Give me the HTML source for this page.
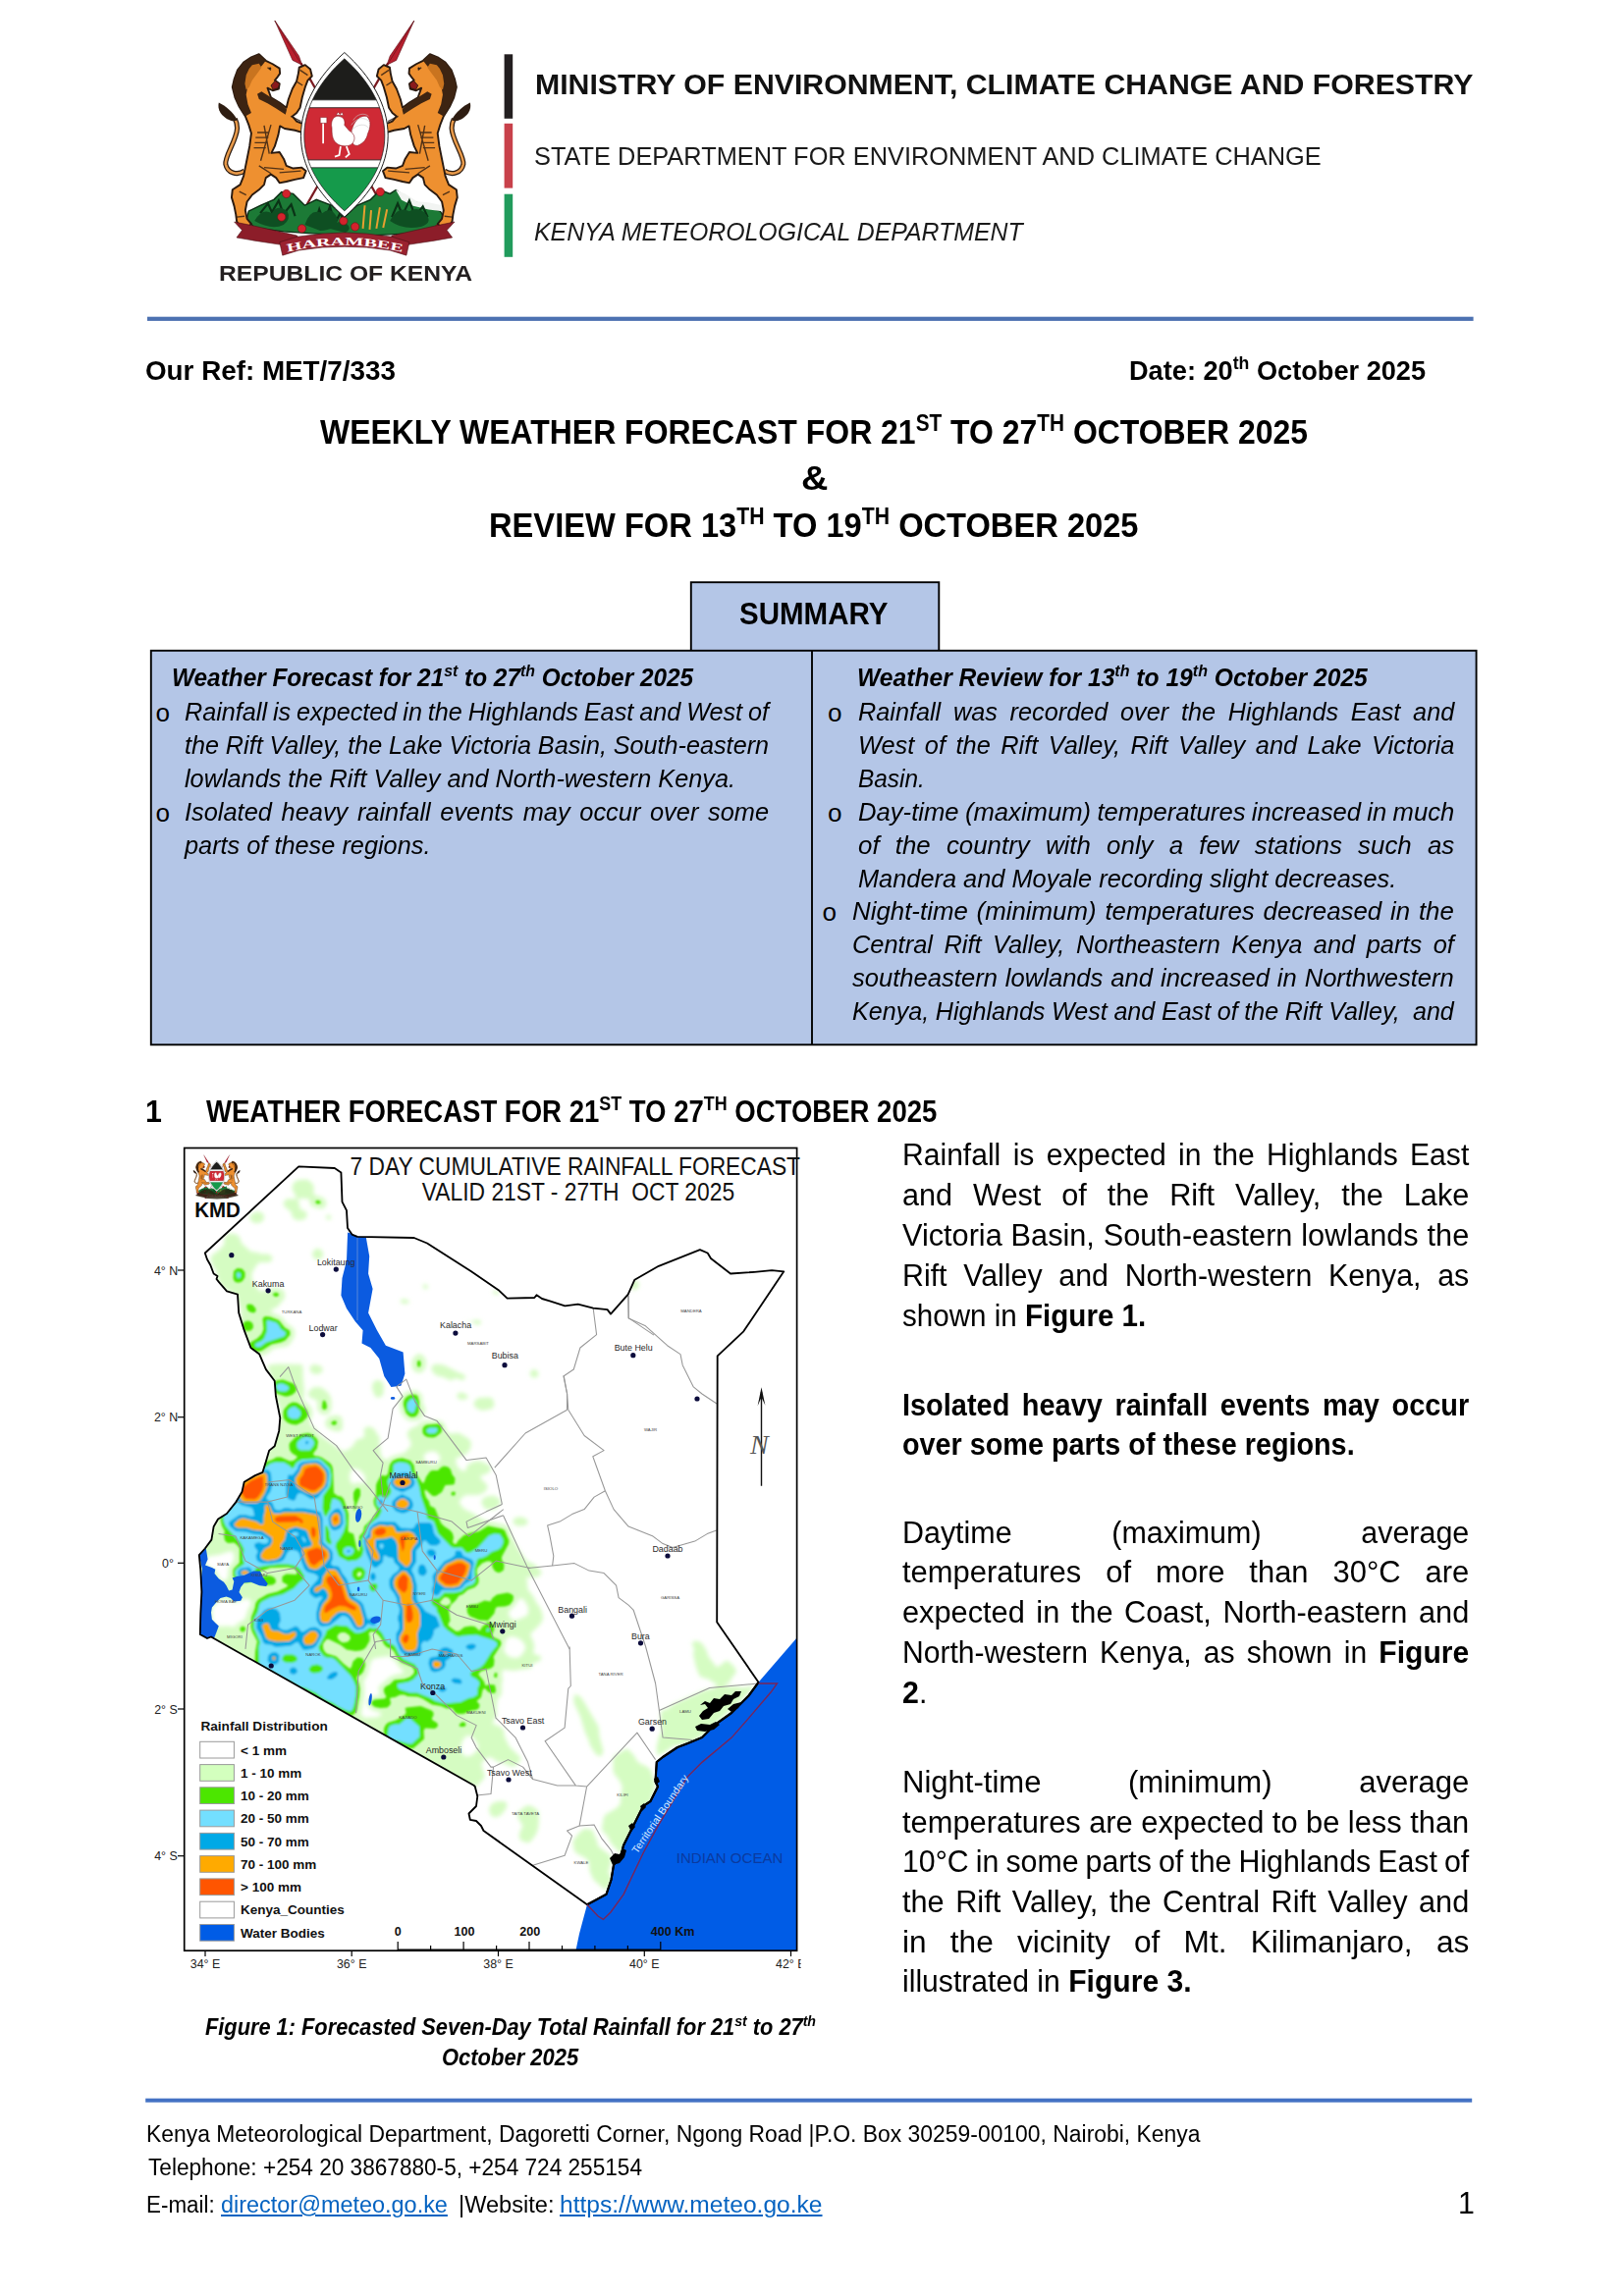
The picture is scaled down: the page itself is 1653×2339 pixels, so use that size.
<!DOCTYPE html>
<html lang="en"><head><meta charset="utf-8"><title>Weekly Weather Forecast</title>
<style>
html,body{margin:0;padding:0;background:#fff}
#pg{position:relative;width:1653px;height:2339px;overflow:hidden;background:#fff;font-family:"Liberation Sans",sans-serif;color:#000}
#g{position:absolute;left:0;top:0}
.t{position:absolute;white-space:pre;transform-origin:0 0;line-height:1}
.s{font-size:65%;position:relative;top:-0.58em;line-height:0}
.a{color:#0563c1;text-decoration:underline}
.o{font-family:"Liberation Mono",monospace;font-size:26px;font-style:normal}
svg text{font-family:"Liberation Sans",sans-serif}
</style></head>
<body><div id="pg">
<svg id="g" width="1653" height="2339" viewBox="0 0 1653 2339">
<rect x="513.6" y="55.3" width="8.6" height="65.5" fill="#231f20"/>
<rect x="513.6" y="125.8" width="8.6" height="65.8" fill="#c8414b"/>
<rect x="513.6" y="197.7" width="8.6" height="64.1" fill="#219b5c"/>
<defs><g id="coa"><g>
<path d="M540,225 L990,1010" stroke="#7a1a20" stroke-width="11" fill="none"/>
<path d="M405,5 L530,188 L546,234 L497,210 Z" fill="#b81f2e" stroke="#5a0f18" stroke-width="3"/>
<path d="M405,5 L540,228" stroke="#5a0f18" stroke-width="3" fill="none"/>
</g>
<g transform="translate(1530,0) scale(-1,1)">
<path d="M540,225 L990,1010" stroke="#7a1a20" stroke-width="11" fill="none"/>
<path d="M405,5 L530,188 L546,234 L497,210 Z" fill="#b81f2e" stroke="#5a0f18" stroke-width="3"/>
<path d="M405,5 L540,228" stroke="#5a0f18" stroke-width="3" fill="none"/>
</g>
<path d="M270,990 L330,960 400,930 440,890 500,900 560,960 620,930 700,960 765,1020 830,960 900,930 950,880 1000,900 1030,880 1100,930 1180,960 1260,990 1290,1040 1250,1085 1100,1105 900,1115 765,1115 600,1105 450,1095 300,1075 260,1030Z" fill="#1c7a36" stroke="#0b2e14" stroke-width="7"/>
<path d="M1030,880 L1080,900 1140,940 1200,945 1270,960 1282,992 1200,982 1120,962 1060,932Z" fill="#f2f4f2"/>
<path d="M330,1000 l40,-50 20,45 35,-60 25,70 40,-50 20,60 M610,1060 l25,-80 25,70 30,-85 25,90 30,-60 15,60 M1010,1020 l30,-70 25,60 35,-75 30,80 40,-50 25,55" stroke="#0a3316" stroke-width="11" fill="none"/>
<path d="M300,1040 q40,-70 90,-40 q30,-50 80,-10 q20,40 -20,70 q-60,30 -150,-20z M560,1060 q30,-90 90,-60 q50,-40 80,30 q-10,60 -90,60z M1000,1040 q40,-80 100,-50 q50,-30 90,20 q30,40 -30,60 q-90,20 -160,-30z M690,1080 q30,-50 80,-30 q40,30 0,50z" fill="#0e4f22"/>
<path d="M860,1080 l10,-120 M895,1085 l8,-100 M930,1080 l18,-110 M965,1075 l20,-95" stroke="#e8a030" stroke-width="10" fill="none"/>
<circle cx="465" cy="900" r="21" fill="#d3232c" stroke="#6a1016" stroke-width="3"/>
<circle cx="440" cy="1020" r="21" fill="#d3232c" stroke="#6a1016" stroke-width="3"/>
<circle cx="760" cy="1040" r="21" fill="#d3232c" stroke="#6a1016" stroke-width="3"/>
<circle cx="820" cy="1070" r="21" fill="#d3232c" stroke="#6a1016" stroke-width="3"/>
<circle cx="950" cy="890" r="21" fill="#d3232c" stroke="#6a1016" stroke-width="3"/>
<circle cx="1255" cy="1075" r="21" fill="#d3232c" stroke="#6a1016" stroke-width="3"/>
<circle cx="545" cy="1080" r="21" fill="#d3232c" stroke="#6a1016" stroke-width="3"/>
<g><g transform="translate(76.08,101.44) scale(0.4418)" stroke-linejoin="round">
<path d="M390,1540 C300,1600 190,1560 170,1460 C160,1360 300,1180 305,1040 C305,990 295,960 280,930" fill="none" stroke="#2a1a10" stroke-width="58"/>
<path d="M390,1540 C300,1600 190,1560 170,1460 C160,1360 300,1180 305,1040 C305,990 295,960 280,930" fill="none" stroke="#e89a4a" stroke-width="30"/>
<path d="M90,740 C170,780 260,850 305,945 C260,975 170,940 110,860 C85,820 80,780 90,740Z" fill="#2e1d12"/>
<path d="M560,175 640,250 720,290 800,340 805,400 770,450 745,480 800,520 790,580 720,600 660,570 700,680 800,740 880,800 905,700 950,580 1000,490 1020,400 1030,330 1100,300 1160,350 1180,430 1130,480 1100,560 1065,680 1040,800 1000,860 950,900 1000,960 1100,1000 1200,1050 1240,1100 1180,1130 1100,1100 980,1065 860,1045 805,1015 785,1120 745,1250 705,1330 800,1320 850,1400 880,1480 960,1510 1060,1500 1110,1540 1080,1620 980,1640 880,1665 800,1680 760,1620 700,1580 640,1620 620,1700 560,1760 480,1820 420,1900 400,2000 420,2100 470,2160 420,2200 330,2180 300,2130 290,2050 270,1950 240,1850 250,1760 340,1700 380,1600 400,1500 420,1400 450,1250 470,1100 440,1000 400,900 330,790 280,680 250,560 270,470 310,360 380,270 470,210Z" fill="#ee9030" stroke="#2a1a10" stroke-width="22"/>
<path d="M560,175 470,210 380,270 310,360 270,470 250,560 280,680 330,790 400,900 470,860 430,760 410,650 430,540 480,440 545,365 600,300 640,250Z" fill="#3d2412"/>
<path d="M590,610 700,680 800,740 885,820 870,880 760,810 660,750 560,700 540,640Z" fill="#3d2412"/>
<path d="M480,300 560,285 590,330 540,400 480,480 445,560 410,590 395,520 410,420 445,345Z" fill="#c9741f"/>
<path d="M540,1090 h140 M520,1150 h150 M510,1210 h150 M500,1270 h140 M620,1010 l60,330 M700,1000 l-120,420 M560,1480 l140,90 M620,1500 l230,20 M800,1560 l250,-20 M330,1780 l80,40 M300,2080 l90,-10 M930,900 l120,60 M1010,500 l60,40 M1040,360 l90,60 M660,330 l40,30 M1120,1060 l70,40" stroke="#2a1a10" stroke-width="16" fill="none" opacity=".8"/>
<circle cx="690" cy="340" r="13" fill="#2a1a10"/>
<path d="M750,485 L800,520 785,570 725,590 700,540Z" fill="#8a1a1c" stroke="#2a1a10" stroke-width="10"/>
</g></g>
<g transform="translate(1530,0) scale(-1,1)"><g transform="translate(76.08,101.44) scale(0.4418)" stroke-linejoin="round">
<path d="M390,1540 C300,1600 190,1560 170,1460 C160,1360 300,1180 305,1040 C305,990 295,960 280,930" fill="none" stroke="#2a1a10" stroke-width="58"/>
<path d="M390,1540 C300,1600 190,1560 170,1460 C160,1360 300,1180 305,1040 C305,990 295,960 280,930" fill="none" stroke="#e89a4a" stroke-width="30"/>
<path d="M90,740 C170,780 260,850 305,945 C260,975 170,940 110,860 C85,820 80,780 90,740Z" fill="#2e1d12"/>
<path d="M560,175 640,250 720,290 800,340 805,400 770,450 745,480 800,520 790,580 720,600 660,570 700,680 800,740 880,800 905,700 950,580 1000,490 1020,400 1030,330 1100,300 1160,350 1180,430 1130,480 1100,560 1065,680 1040,800 1000,860 950,900 1000,960 1100,1000 1200,1050 1240,1100 1180,1130 1100,1100 980,1065 860,1045 805,1015 785,1120 745,1250 705,1330 800,1320 850,1400 880,1480 960,1510 1060,1500 1110,1540 1080,1620 980,1640 880,1665 800,1680 760,1620 700,1580 640,1620 620,1700 560,1760 480,1820 420,1900 400,2000 420,2100 470,2160 420,2200 330,2180 300,2130 290,2050 270,1950 240,1850 250,1760 340,1700 380,1600 400,1500 420,1400 450,1250 470,1100 440,1000 400,900 330,790 280,680 250,560 270,470 310,360 380,270 470,210Z" fill="#ee9030" stroke="#2a1a10" stroke-width="22"/>
<path d="M560,175 470,210 380,270 310,360 270,470 250,560 280,680 330,790 400,900 470,860 430,760 410,650 430,540 480,440 545,365 600,300 640,250Z" fill="#3d2412"/>
<path d="M590,610 700,680 800,740 885,820 870,880 760,810 660,750 560,700 540,640Z" fill="#3d2412"/>
<path d="M480,300 560,285 590,330 540,400 480,480 445,560 410,590 395,520 410,420 445,345Z" fill="#c9741f"/>
<path d="M540,1090 h140 M520,1150 h150 M510,1210 h150 M500,1270 h140 M620,1010 l60,330 M700,1000 l-120,420 M560,1480 l140,90 M620,1500 l230,20 M800,1560 l250,-20 M330,1780 l80,40 M300,2080 l90,-10 M930,900 l120,60 M1010,500 l60,40 M1040,360 l90,60 M660,330 l40,30 M1120,1060 l70,40" stroke="#2a1a10" stroke-width="16" fill="none" opacity=".8"/>
<circle cx="690" cy="340" r="13" fill="#2a1a10"/>
<path d="M750,485 L800,520 785,570 725,590 700,540Z" fill="#8a1a1c" stroke="#2a1a10" stroke-width="10"/>
</g></g>
<path d="M765,170 C900,290 990,440 990,600 C990,760 900,900 765,1020 C630,900 540,760 540,600 C540,440 630,290 765,170Z" fill="#fff" stroke="#1a1a1a" stroke-width="5"/>
<clipPath id="shc"><path d="M765,170 C900,290 990,440 990,600 C990,760 900,900 765,1020 C630,900 540,760 540,600 C540,440 630,290 765,170Z" transform="translate(765 597) scale(0.925) translate(-765 -597)"/></clipPath>
<g clip-path="url(#shc)"><rect x="520" y="150" width="500" height="265" fill="#1d1d1b"/><rect x="520" y="415" width="500" height="40" fill="#fff"/><rect x="520" y="455" width="500" height="270" fill="#cf2a35"/><rect x="520" y="725" width="500" height="40" fill="#fff"/><rect x="520" y="765" width="500" height="270" fill="#159a4b"/>
<path d="M520,415 H1020 M520,455 H1020 M520,725 H1020 M520,765 H1020" stroke="#1a1a1a" stroke-width="4"/></g>
<path d="M765,170 C900,290 990,440 990,600 C990,760 900,900 765,1020 C630,900 540,760 540,600 C540,440 630,290 765,170Z" transform="translate(765 597) scale(0.925) translate(-765 -597)" fill="none" stroke="#1a1a1a" stroke-width="4"/>
<g fill="#fff" stroke="#8a1a22" stroke-width="3">
<path d="M800,600 C800,540 840,490 880,500 C905,520 900,560 885,590 C880,620 860,640 835,650 C815,655 800,640 800,600Z"/>
<path d="M810,520 C830,485 870,480 890,500 M800,545 C825,505 875,500 895,530 M800,575 C830,535 880,535 892,565" fill="none" stroke="#c9c9c9"/>
<path d="M700,560 C690,520 715,490 740,500 C760,505 770,520 765,545 L790,575 C815,585 830,620 800,645 C775,660 735,655 715,630 C700,610 700,585 700,560Z"/>
<path d="M722,492 l10,-14 10,12 10,-12 8,16Z" fill="#fff"/>
<path d="M745,655 L738,700 715,708 M775,655 L790,695 770,712" fill="none" stroke="#fff" stroke-width="9"/>
<path d="M655,520 V640" stroke="#fff" stroke-width="9" fill="none"/><path d="M640,505 h34 v30 h-34z"/>
</g>
<path d="M196,1045 L300,1066 420,1093 520,1116 548,1172 430,1162 300,1142 208,1126 236,1088Z" fill="#8c1d29" stroke="#4a0d14" stroke-width="3"/>
<path d="M1334,1045 L1230,1066 1110,1093 1010,1116 982,1172 1100,1162 1230,1142 1322,1126 1294,1088Z" fill="#8c1d29" stroke="#4a0d14" stroke-width="3"/>
<path d="M430,1150 L520,1122 650,1106 765,1100 880,1106 1010,1122 1100,1150 1085,1218 1000,1192 880,1177 765,1173 650,1177 530,1192 445,1218Z" fill="#9a2230" stroke="#4a0d14" stroke-width="3"/>
<path id="harc" d="M470,1200 Q765,1131 1060,1200" fill="none"/>
<text font-size="58" font-weight="bold" fill="#fff" style="font-family:'Liberation Serif',serif" textLength="600" lengthAdjust="spacingAndGlyphs"><textPath href="#harc">HARAMBEE</textPath></text></g></defs>
<use href="#coa" transform="translate(200,20) scale(0.19716)"/>
<rect x="150" y="322.7" width="1350.6" height="4.2" fill="#4c71b1"/>
<rect x="148.2" y="2137.7" width="1351" height="4" fill="#4472c4"/>
<rect x="703.8" y="593.2" width="252.5" height="70" fill="#b4c6e7" stroke="#000" stroke-width="1.9"/>
<rect x="153.8" y="662.8" width="1349.8" height="401.5" fill="#b4c6e7" stroke="#000" stroke-width="1.9"/>
<line x1="827" y1="662.8" x2="827" y2="1064.3" stroke="#000" stroke-width="1.9"/>
<defs><clipPath id="cimg"><rect x="148" y="1160" width="667.6" height="860"/></clipPath><clipPath id="cf"><rect x="187.7" y="1169.5" width="623.9" height="817.7"/></clipPath><clipPath id="ck"><path d="M304.2,1188.4 L340.8,1190.0 L347.4,1194.4 L348.5,1224.3 L353.0,1233.2 L354.0,1251.0 L358.5,1257.6 L364.0,1259.8 L421.7,1261.0 L435.0,1266.5 L480.0,1295.3 L507.7,1314.2 L516.6,1322.6 L544.3,1322.0 L546.5,1319.3 L552.0,1323.0 L559.9,1325.3 L575.4,1330.4 L588.7,1328.6 L604.2,1332.6 L618.6,1334.1 L622.0,1338.6 L639.7,1318.6 L646.4,1303.7 L670.8,1289.8 L712.9,1273.1 L720.7,1276.5 L724.0,1282.0 L744.0,1297.5 L768.4,1295.8 L786.1,1294.2 L798.3,1295.3 L757.3,1356.3 L730.7,1381.4 L730.2,1652.5 L772.5,1713.8 L762.5,1727.5 L755.0,1735.0 L745.0,1745.0 L727.5,1757.5 L715.0,1770.0 L700.0,1776.2 L690.0,1780.0 L675.0,1790.0 L668.8,1795.0 L667.5,1815.0 L670.0,1820.0 L662.5,1835.0 L655.0,1840.0 L647.5,1855.0 L642.5,1865.0 L635.0,1880.0 L632.5,1890.0 L625.0,1900.0 L622.5,1915.0 L617.5,1929.8 L606.0,1936.0 L598.0,1940.3 L492.5,1865.0 L490.0,1860.0 L485.0,1855.0 L478.8,1853.8 L477.5,1847.5 L485.0,1840.0 L486.3,1830.0 L483.8,1820.0 L482.5,1818.8 L215.0,1667.5 L211.0,1669.0 L203.8,1665.0 L204.3,1644.0 L205.4,1621.8 L204.3,1599.6 L202.8,1584.1 L208.8,1577.5 L215.4,1568.6 L217.6,1555.3 L222.1,1547.5 L230.9,1542.0 L239.8,1530.9 L246.5,1519.8 L248.7,1509.8 L259.8,1503.1 L267.5,1499.8 L270.9,1488.7 L274.2,1477.6 L279.7,1473.2 L284.2,1457.7 L285.3,1444.4 L280.9,1422.2 L279.7,1406.7 L270.9,1395.1 L264.2,1379.6 L255.4,1373.0 L248.7,1355.2 L243.2,1337.5 L242.0,1318.6 L231.0,1315.3 L223.2,1306.4 L220.5,1303.0 L221.5,1300.0 L217.6,1297.5 L214.3,1288.7 L211.0,1283.0 L208.8,1276.5Z"/></clipPath>
<filter id="soft" x="-5%" y="-5%" width="110%" height="110%"><feGaussianBlur stdDeviation="0.9"/></filter><filter id="soft2" x="-5%" y="-5%" width="110%" height="110%"><feGaussianBlur stdDeviation="2.2"/></filter></defs>
<g id="map" clip-path="url(#cimg)">
<rect x="187.7" y="1169.5" width="623.9" height="817.7" fill="#fff"/>
<g clip-path="url(#cf)">
<path d="M811.6,1668.5 L772.5,1713.8 L762.5,1727.5 L755.0,1735.0 L745.0,1745.0 L727.5,1757.5 L715.0,1770.0 L700.0,1776.2 L690.0,1780.0 L675.0,1790.0 L668.8,1795.0 L667.5,1815.0 L670.0,1820.0 L662.5,1835.0 L655.0,1840.0 L647.5,1855.0 L642.5,1865.0 L635.0,1880.0 L632.5,1890.0 L625.0,1900.0 L622.5,1915.0 L617.5,1929.8 L606.0,1936.0 L598.0,1940.3 L594.0,1955.0 L590.0,1970.0 L586.4,1987.2 L811.6,1987.2Z" fill="#005ce6"/>
<g clip-path="url(#ck)"><g filter="url(#soft2)"><path fill="#d5fcc2" fill-rule="evenodd" d="M594.5,1863.0 589.0,1868.0 583.5,1875.5 584.5,1884.5 587.0,1888.0 595.5,1892.5 598.5,1895.0 600.0,1898.0 600.5,1906.0 604.5,1915.0 615.0,1924.5 617.5,1925.0 619.5,1923.0 623.0,1916.0 622.5,1912.0 620.0,1908.0 620.0,1905.5 622.5,1897.5 622.5,1892.0 621.0,1889.5 609.5,1881.0 607.0,1872.5 605.0,1869.0 604.5,1865.5 601.5,1863.5ZM538.5,1839.0 535.0,1840.0 527.0,1846.5 527.5,1852.0 532.5,1860.0 529.0,1867.5 529.0,1873.0 531.0,1875.0 537.0,1877.5 540.0,1876.5 545.5,1869.5 548.0,1863.5 549.0,1853.5 548.5,1845.0 543.5,1841.0ZM514.0,1835.0 507.0,1835.0 502.0,1837.0 499.5,1839.0 498.0,1844.5 500.0,1849.5 502.5,1851.0 506.5,1851.0 509.5,1849.5 513.5,1845.5 516.5,1840.0 516.0,1837.0ZM640.0,1782.0 637.0,1782.0 626.5,1788.0 624.5,1790.5 624.5,1804.5 626.0,1808.0 630.0,1812.5 633.5,1819.0 633.5,1823.5 632.0,1830.0 632.0,1837.0 628.5,1841.5 616.0,1849.0 614.5,1853.0 613.0,1862.0 614.0,1866.0 618.5,1870.0 622.0,1877.5 631.5,1888.0 633.5,1888.0 639.5,1880.5 642.0,1875.0 643.0,1868.0 647.0,1856.0 653.0,1849.0 656.5,1843.0 662.0,1837.0 664.0,1832.5 667.0,1819.5 666.5,1814.5 663.0,1803.5 658.5,1799.5 651.0,1796.0 648.5,1793.5 646.0,1788.5ZM586.0,1725.5 584.5,1729.0 584.5,1735.0 591.0,1748.5 595.5,1764.0 600.0,1774.0 600.5,1777.0 606.0,1786.0 608.5,1788.5 611.5,1789.0 613.5,1787.5 614.5,1783.5 610.5,1768.5 610.0,1761.0 609.0,1758.0 593.5,1731.5 591.0,1728.5ZM711.5,1672.0 707.5,1671.5 705.0,1673.5 705.0,1676.0 707.0,1679.5 706.0,1685.5 708.5,1697.0 711.5,1705.5 714.0,1708.5 721.5,1710.5 731.0,1717.0 726.5,1720.0 718.0,1721.5 685.5,1736.0 680.5,1740.5 675.5,1742.0 673.0,1744.0 672.5,1752.5 674.0,1763.0 671.0,1769.5 668.5,1780.5 669.5,1788.0 671.0,1788.0 679.5,1783.5 685.0,1779.0 699.0,1777.0 711.5,1771.0 721.5,1763.5 742.0,1744.0 747.0,1740.5 764.0,1723.0 767.5,1718.0 764.5,1717.5 759.5,1719.0 754.5,1719.0 751.0,1718.0 738.5,1718.0 737.5,1717.0 743.0,1714.0 745.5,1709.0 749.5,1704.5 749.5,1700.5 746.5,1696.5 741.5,1692.0 739.0,1692.0 732.5,1697.5 729.5,1698.0 721.5,1687.5 720.0,1682.5 715.5,1674.5ZM522.5,1548.5 523.0,1552.5 527.0,1554.5 533.0,1554.5 536.5,1553.0 537.5,1551.5 537.0,1548.0 532.0,1545.5 527.5,1545.5 524.5,1546.5ZM502.5,1523.5 495.0,1524.5 491.0,1527.5 490.0,1530.5 493.0,1536.0 496.5,1538.0 502.5,1538.0 505.5,1536.5 509.5,1532.5 509.5,1528.0 506.0,1525.0ZM334.5,1443.5 331.0,1449.0 332.0,1453.0 334.0,1455.0 341.0,1458.0 346.5,1458.0 348.5,1456.0 349.0,1454.0 348.5,1445.5 347.5,1443.5 343.0,1441.5ZM482.5,1429.0 483.0,1432.0 485.0,1434.5 491.0,1437.0 499.5,1435.5 501.5,1434.5 503.5,1432.0 502.5,1426.0 501.0,1424.5 498.0,1423.5 488.0,1424.0 485.0,1425.5ZM465.5,1421.0 465.5,1423.5 469.0,1426.0 474.0,1425.5 476.5,1424.0 476.5,1421.5 472.0,1419.0 468.5,1418.5 467.0,1419.0ZM418.5,1416.5 413.0,1418.5 409.0,1422.0 406.5,1428.0 408.0,1437.5 410.0,1441.5 414.0,1446.0 417.5,1447.5 424.0,1447.5 428.0,1446.0 429.5,1444.5 433.0,1438.5 433.0,1434.5 430.5,1429.5 430.0,1421.5 426.0,1417.5 423.0,1416.5ZM318.5,1413.5 314.0,1418.0 314.0,1422.0 316.0,1424.0 321.5,1426.0 323.5,1428.0 323.0,1435.0 326.0,1439.5 329.0,1441.0 334.5,1440.5 337.5,1435.5 337.5,1426.0 335.5,1420.5 330.5,1415.5 326.0,1413.0ZM383.0,1406.0 379.5,1409.0 379.0,1415.0 382.0,1422.5 385.5,1424.0 388.0,1423.0 390.5,1420.0 391.0,1411.5 390.0,1409.0 388.0,1407.0 386.0,1406.0ZM542.0,1395.5 540.0,1398.0 540.0,1401.0 542.5,1403.5 547.0,1403.0 548.5,1400.5 548.0,1397.5 545.0,1395.0ZM316.0,1392.0 315.5,1395.5 316.5,1397.5 319.0,1399.5 324.5,1400.0 328.5,1397.0 328.5,1393.5 325.5,1391.0 320.5,1390.0 318.0,1390.5ZM439.5,1392.5 439.5,1395.5 442.5,1400.0 446.5,1402.0 452.0,1403.0 458.0,1406.0 460.0,1406.0 464.0,1404.0 471.0,1406.0 472.5,1405.5 474.0,1403.5 474.0,1402.0 472.0,1400.0 466.5,1398.0 452.0,1390.5 444.0,1389.5 440.5,1391.0ZM274.0,1390.5 273.0,1391.5 273.0,1394.5 276.0,1402.0 276.0,1406.5 274.0,1410.0 273.0,1417.0 274.5,1420.5 281.0,1425.5 285.0,1433.5 284.0,1444.5 280.0,1451.5 279.5,1458.0 274.0,1469.5 272.0,1482.0 265.5,1488.0 257.0,1491.0 242.5,1498.0 233.0,1506.5 230.0,1515.5 229.5,1526.0 221.0,1539.0 221.0,1550.5 220.0,1552.5 212.0,1560.0 209.5,1567.5 201.5,1584.0 199.5,1590.0 199.5,1592.5 201.5,1598.0 202.5,1604.5 203.5,1627.0 206.5,1636.5 206.5,1641.0 203.0,1647.0 202.5,1649.5 203.5,1656.5 201.5,1661.0 201.5,1665.0 205.0,1668.0 209.5,1669.5 217.0,1674.5 225.5,1678.0 229.0,1681.0 238.0,1685.0 253.0,1694.5 257.0,1700.0 259.5,1702.0 272.5,1709.0 281.5,1716.0 292.5,1719.5 315.0,1733.5 323.0,1735.0 333.0,1740.0 339.0,1745.0 351.0,1751.5 360.5,1753.5 366.0,1757.0 376.0,1761.0 385.0,1767.5 393.0,1777.0 399.5,1781.5 404.0,1783.0 410.0,1783.0 417.5,1786.0 433.0,1796.0 441.5,1799.5 446.5,1803.5 458.5,1808.0 461.5,1811.5 456.0,1816.5 455.0,1818.5 455.0,1821.5 456.0,1823.5 459.5,1826.0 463.0,1827.0 470.0,1827.0 474.5,1824.0 477.0,1818.5 480.0,1818.5 483.5,1820.0 486.0,1819.5 493.5,1811.0 493.5,1808.0 490.5,1799.0 490.5,1796.0 492.5,1793.5 497.5,1790.0 499.5,1790.0 506.5,1794.5 514.0,1796.5 518.5,1799.0 522.0,1800.0 524.5,1799.5 530.0,1793.5 530.0,1790.0 519.0,1779.5 514.0,1769.5 513.0,1762.0 508.0,1758.0 503.5,1757.0 502.0,1755.5 502.0,1754.0 506.0,1747.0 505.5,1740.5 506.5,1731.5 510.5,1726.5 511.0,1724.0 511.0,1714.5 512.0,1711.5 511.0,1704.0 511.5,1702.5 513.0,1701.0 522.5,1702.0 541.0,1699.5 542.0,1696.0 544.0,1694.0 548.0,1693.0 551.0,1690.5 551.0,1688.0 549.5,1686.5 545.0,1685.5 543.0,1683.5 544.0,1680.0 544.0,1675.5 543.0,1671.5 540.5,1667.0 540.5,1664.0 549.0,1656.0 553.0,1650.0 552.5,1644.0 549.5,1636.5 546.5,1633.0 543.0,1626.0 537.5,1619.0 536.5,1607.5 538.0,1606.0 541.0,1607.0 545.5,1607.0 548.5,1606.0 551.5,1603.0 551.5,1601.0 546.5,1595.5 543.0,1593.0 538.0,1591.0 535.0,1588.0 527.0,1576.5 520.0,1562.5 519.5,1557.5 517.5,1555.0 512.5,1553.0 492.5,1548.5 480.5,1541.0 473.0,1537.5 468.0,1531.5 468.0,1529.0 469.5,1526.5 474.0,1523.0 487.5,1523.0 492.5,1521.0 495.5,1518.0 496.5,1515.5 496.0,1512.5 489.5,1506.0 489.0,1504.5 490.5,1503.0 494.5,1502.0 499.0,1499.0 500.0,1496.5 499.0,1493.0 490.0,1488.5 484.0,1488.5 477.0,1491.5 475.5,1494.0 475.0,1497.0 473.5,1498.5 471.0,1498.5 468.0,1496.5 465.0,1492.5 464.0,1487.0 465.5,1485.0 473.0,1482.5 478.0,1478.0 480.0,1472.0 479.5,1468.5 477.0,1465.5 469.0,1460.5 465.5,1459.5 460.0,1460.5 456.5,1460.0 454.5,1457.0 453.5,1452.5 451.5,1449.0 447.0,1447.0 432.0,1447.5 429.5,1448.5 425.5,1452.0 418.0,1455.5 415.0,1459.0 415.0,1463.0 418.5,1469.0 418.5,1473.0 412.0,1480.0 399.5,1483.5 394.0,1487.0 391.5,1487.0 388.5,1484.0 386.5,1472.5 386.5,1464.5 381.0,1455.5 377.5,1453.5 373.5,1453.5 371.0,1455.5 370.5,1458.5 371.5,1462.0 369.5,1465.0 363.5,1466.5 358.0,1474.5 351.0,1478.5 349.0,1478.5 327.0,1463.0 324.0,1460.0 321.5,1455.5 315.5,1450.5 315.5,1448.0 318.0,1442.5 318.0,1436.5 316.0,1432.5 309.0,1426.0 310.0,1417.5 308.5,1402.5 308.5,1392.5 307.5,1390.0 282.5,1389.5ZM476.0,1768.0 478.5,1768.0 481.0,1769.5 484.5,1773.5 487.0,1778.0 486.5,1782.5 481.5,1787.5 478.5,1789.0 474.0,1789.0 472.0,1788.0 469.5,1783.5 469.5,1777.5 472.0,1771.5ZM396.5,1687.0 403.5,1693.5 407.0,1699.0 411.0,1702.0 411.0,1703.5 409.0,1705.0 403.0,1706.0 397.0,1708.5 386.0,1718.0 385.5,1720.5 387.0,1726.0 384.0,1728.0 379.0,1728.0 375.0,1731.0 374.0,1735.5 375.5,1739.5 380.0,1742.5 387.0,1744.5 388.0,1745.5 388.0,1747.0 386.5,1748.5 383.0,1749.5 371.0,1750.0 368.0,1747.5 368.0,1743.5 371.0,1727.0 370.5,1712.0 374.0,1707.0 377.5,1693.0 379.5,1690.5 382.5,1689.0ZM519.0,1667.5 522.0,1667.0 528.5,1669.0 533.0,1673.0 535.0,1677.0 535.0,1680.5 530.5,1687.0 527.0,1689.0 520.5,1688.5 517.5,1687.0 513.0,1682.0 515.0,1670.5ZM255.5,1631.0 256.0,1634.0 252.5,1640.0 250.0,1648.5 247.5,1651.0 243.0,1653.0 239.5,1656.5 237.5,1657.5 233.0,1656.5 222.0,1657.0 217.0,1652.0 216.0,1649.5 216.0,1638.5 217.0,1636.5 224.0,1630.0 228.0,1629.0 238.0,1632.0 241.5,1632.0 248.5,1629.0 252.0,1628.5ZM532.0,1628.5 534.5,1631.0 538.0,1637.0 538.0,1644.0 535.5,1646.5 527.5,1650.0 522.5,1650.5 520.0,1648.5 518.0,1644.5 518.0,1641.5 523.5,1636.5 529.0,1628.5ZM236.0,1580.5 237.5,1581.5 238.5,1584.0 238.0,1590.5 233.0,1596.5 232.0,1607.5 230.0,1610.0 226.5,1610.5 222.5,1606.0 220.5,1600.5 219.0,1599.0 214.5,1597.5 210.0,1593.5 209.0,1590.5 209.5,1588.5 211.0,1586.5 214.5,1585.0 222.5,1584.0 233.5,1580.5ZM359.5,1495.5 365.5,1497.0 370.5,1501.5 372.0,1504.5 372.0,1510.0 370.5,1511.5 365.0,1510.5 359.0,1512.0 356.5,1508.5 356.0,1503.5 357.0,1499.0ZM433.5,1480.5 438.5,1478.5 442.0,1478.5 444.5,1479.5 448.0,1483.0 448.5,1486.0 447.5,1488.5 443.0,1492.0 439.0,1492.0 435.5,1490.5 431.5,1486.0 431.5,1483.0ZM425.0,1379.5 420.5,1384.0 419.5,1386.5 419.5,1392.0 421.0,1395.5 423.5,1398.0 428.5,1398.5 431.0,1397.0 433.5,1392.5 434.0,1386.5 431.5,1381.5 428.5,1379.5ZM490.0,1348.0 489.5,1345.5 486.0,1344.5 479.5,1346.0 475.5,1346.0 475.5,1347.0 480.0,1346.5 485.5,1349.5 488.0,1349.5ZM408.0,1324.5 408.0,1326.5 410.0,1328.0 415.0,1328.0 417.0,1326.5 416.5,1325.0 412.5,1323.5 409.5,1323.5ZM501.5,1316.5 503.5,1318.5 507.5,1318.5 508.5,1317.5 508.5,1316.0 506.0,1314.5 503.0,1315.0ZM430.0,1310.0 432.0,1312.5 434.0,1313.5 436.0,1312.0 436.0,1310.5 434.5,1308.5 432.0,1308.5ZM646.0,1304.0 643.0,1306.0 642.0,1310.5 644.0,1313.5 647.5,1314.0 650.5,1310.5 650.5,1307.0 648.5,1304.5ZM322.0,1272.0 319.0,1274.5 318.0,1278.5 320.0,1282.0 322.0,1283.0 325.5,1283.0 328.0,1281.5 329.0,1279.5 329.0,1276.0 326.5,1272.5ZM230.5,1258.0 228.5,1261.5 228.5,1266.5 227.5,1269.0 223.0,1273.5 215.0,1279.5 214.5,1283.5 217.0,1290.5 220.5,1295.0 221.0,1302.0 224.0,1307.5 228.0,1312.5 237.5,1317.5 241.5,1322.0 242.0,1325.5 245.0,1332.5 245.5,1342.0 243.0,1350.0 243.0,1353.0 245.0,1357.0 248.0,1359.0 251.0,1362.5 248.5,1367.5 248.5,1372.5 249.5,1374.5 254.0,1378.5 258.0,1380.5 265.0,1381.5 272.0,1379.0 279.0,1373.5 292.5,1371.5 295.0,1369.5 300.0,1361.5 300.0,1355.0 297.0,1351.5 292.0,1348.5 287.5,1342.0 283.0,1339.5 278.0,1338.0 276.0,1336.0 277.5,1333.5 282.0,1332.0 290.0,1322.5 290.0,1316.5 287.0,1313.5 280.0,1311.5 270.0,1315.0 265.0,1315.5 263.0,1314.0 256.5,1303.0 256.5,1298.5 257.5,1295.0 262.0,1288.0 264.5,1286.0 274.0,1286.0 276.0,1285.0 277.5,1282.0 277.0,1280.0 273.5,1277.5 266.5,1277.5 262.5,1276.0 255.5,1275.0 246.0,1266.5 244.5,1261.5 241.5,1257.5 234.5,1256.5ZM333.0,1238.0 332.0,1239.5 332.5,1242.0 336.0,1242.5 337.5,1240.5 337.0,1239.0 335.0,1237.5ZM257.0,1236.0 254.5,1239.0 254.5,1241.5 256.5,1244.5 259.5,1246.0 264.0,1246.0 268.5,1243.0 269.0,1238.5 267.0,1235.5 264.5,1234.5 261.0,1234.5ZM313.0,1201.5 304.5,1202.0 300.5,1203.5 298.0,1207.0 297.5,1211.0 302.0,1220.5 300.5,1221.5 293.5,1221.0 291.0,1222.0 289.0,1224.5 289.0,1227.5 290.0,1229.5 296.5,1234.5 298.0,1240.5 302.0,1243.0 307.5,1243.0 311.0,1241.5 312.5,1239.5 312.5,1235.5 310.5,1233.5 307.0,1232.5 305.0,1230.5 305.0,1226.5 303.5,1223.0 304.0,1221.0 314.0,1221.0 315.5,1223.0 316.0,1227.5 320.0,1230.0 328.0,1231.5 329.5,1231.0 332.0,1228.0 332.0,1223.5 330.0,1221.0 326.5,1219.0 321.0,1218.0 319.5,1216.5 319.5,1208.0 318.0,1205.5Z"/></g><g filter="url(#soft)">
<path fill="#4ce600" fill-rule="evenodd" d="M467.5,1757.0 468.5,1759.0 473.0,1759.0 474.5,1757.5 474.0,1755.5 472.5,1754.5 470.5,1754.5ZM441.5,1744.5 439.5,1742.5 428.5,1738.0 414.0,1739.5 412.5,1740.5 413.5,1743.5 413.0,1746.5 403.0,1752.5 395.0,1755.0 392.5,1757.5 391.0,1761.0 391.0,1767.5 393.5,1772.0 400.0,1776.5 405.5,1778.0 410.0,1778.0 418.5,1781.5 421.0,1781.0 432.0,1771.5 431.5,1763.0 433.0,1760.5 443.0,1761.0 446.0,1758.5 445.5,1755.5 440.0,1752.0 440.0,1750.0 441.5,1747.5ZM504.0,1704.0 503.0,1707.5 504.0,1709.0 506.0,1709.0 506.5,1705.0 505.5,1704.0ZM247.0,1656.5 244.5,1658.5 244.5,1661.0 246.5,1662.5 248.0,1662.5 250.0,1660.5 250.0,1658.0ZM523.0,1626.0 521.0,1624.0 517.0,1622.5 506.0,1624.5 501.5,1628.0 499.5,1631.5 493.5,1630.5 486.0,1634.0 477.5,1635.0 475.5,1638.0 476.0,1643.0 478.5,1646.5 488.0,1650.5 497.0,1651.0 503.5,1643.5 504.5,1639.0 506.0,1637.0 514.5,1636.5 519.0,1635.0 522.5,1630.5ZM265.5,1608.5 265.5,1611.5 268.0,1614.0 270.5,1615.0 278.0,1614.5 281.0,1612.0 280.5,1608.5 278.5,1606.5 274.5,1605.0 269.0,1605.5ZM461.0,1519.5 459.5,1521.0 459.5,1522.5 460.5,1523.5 463.0,1523.5 464.0,1521.0 463.5,1520.0ZM365.5,1516.0 362.5,1516.5 360.0,1520.5 360.0,1527.0 361.0,1530.5 360.5,1539.0 361.5,1538.5 363.0,1532.5 367.0,1523.5 367.0,1518.0ZM238.5,1507.5 234.5,1520.0 234.5,1527.5 229.5,1533.0 225.0,1542.0 224.5,1547.5 226.0,1554.5 229.0,1560.0 228.0,1563.5 229.0,1569.5 232.0,1572.0 238.5,1571.5 242.0,1574.5 244.0,1577.5 244.0,1592.0 238.5,1597.5 237.5,1599.5 237.5,1605.5 239.0,1608.5 241.0,1610.5 244.5,1612.0 252.5,1612.0 257.5,1611.0 261.5,1608.5 263.0,1603.0 265.0,1601.0 275.5,1597.0 293.0,1596.5 299.5,1598.0 302.5,1600.5 302.0,1604.0 291.5,1603.5 287.5,1606.0 287.5,1611.5 293.5,1615.0 291.5,1617.0 282.5,1621.5 272.5,1624.0 263.0,1629.5 260.5,1633.0 259.5,1638.5 256.0,1647.5 255.5,1657.5 257.0,1662.5 262.0,1672.0 260.0,1682.5 259.5,1695.0 262.5,1699.5 267.0,1702.5 274.5,1705.5 283.5,1712.0 291.5,1714.5 298.5,1719.0 305.0,1721.5 316.5,1728.0 324.5,1731.0 328.5,1734.0 334.5,1736.5 341.0,1741.0 353.0,1747.0 358.0,1748.0 361.5,1745.5 363.5,1742.0 366.0,1727.5 366.5,1720.5 365.5,1715.0 363.5,1710.5 363.5,1708.0 367.5,1706.0 370.0,1703.0 372.0,1696.5 371.5,1693.0 368.5,1689.0 364.0,1688.5 359.5,1692.5 358.0,1698.0 356.5,1700.0 350.0,1695.0 342.5,1687.5 332.5,1684.5 330.0,1681.5 329.0,1678.5 329.0,1674.5 332.5,1670.0 335.0,1670.0 346.5,1675.5 353.0,1680.5 362.0,1682.0 367.0,1681.5 370.0,1680.5 372.5,1678.5 376.5,1671.5 376.5,1667.0 375.5,1664.0 377.5,1662.0 382.0,1662.5 385.5,1665.5 388.5,1669.5 391.0,1675.0 394.0,1678.0 399.0,1680.0 401.5,1682.5 404.0,1688.0 408.5,1693.5 419.5,1698.0 422.0,1701.5 421.5,1705.0 417.5,1708.5 412.0,1710.5 401.5,1711.5 397.0,1716.0 393.0,1718.0 391.0,1720.5 391.0,1723.5 393.5,1729.0 391.5,1730.5 381.5,1731.5 378.5,1733.5 378.5,1736.5 382.0,1739.0 387.5,1740.0 394.5,1739.5 397.5,1736.5 398.0,1735.0 397.0,1730.5 398.0,1729.5 402.5,1729.0 407.5,1726.5 412.0,1726.5 415.0,1728.0 425.5,1728.5 430.5,1730.5 440.0,1736.5 449.0,1738.0 455.0,1740.5 460.5,1740.0 464.0,1745.0 467.0,1746.0 472.0,1746.0 480.5,1742.5 485.0,1742.0 488.0,1740.0 488.5,1736.5 485.5,1733.0 490.0,1729.0 491.5,1722.0 493.0,1720.0 494.0,1720.0 496.5,1723.0 499.0,1724.5 503.5,1725.0 504.5,1724.0 505.0,1722.0 504.0,1716.5 498.0,1716.0 494.5,1717.5 493.0,1713.0 487.5,1706.0 487.5,1705.0 490.0,1702.5 500.0,1699.5 503.0,1697.0 503.5,1691.0 502.5,1688.0 510.0,1676.0 510.5,1674.0 509.5,1671.0 503.0,1668.0 501.0,1666.0 503.5,1659.5 503.0,1655.5 499.5,1653.0 496.5,1652.5 490.5,1658.0 489.0,1661.0 488.0,1661.0 483.5,1657.0 479.5,1656.5 473.0,1657.5 468.0,1661.5 464.5,1662.0 457.0,1656.5 456.5,1654.5 458.5,1651.0 457.0,1640.0 459.0,1635.0 464.0,1630.5 467.5,1625.5 471.5,1624.0 476.5,1619.5 483.5,1617.0 486.5,1614.0 487.5,1612.0 487.5,1608.0 485.5,1602.0 485.5,1599.5 486.5,1597.0 491.0,1592.5 496.0,1590.5 499.5,1590.5 501.0,1592.0 501.5,1596.5 504.0,1600.5 507.0,1602.0 509.0,1602.0 513.0,1599.5 513.5,1594.0 511.0,1588.5 511.0,1586.0 518.0,1573.0 518.5,1569.5 514.0,1559.0 511.5,1557.5 497.0,1554.5 488.0,1560.0 479.5,1561.5 472.5,1564.0 467.0,1569.0 464.5,1573.0 463.0,1573.0 461.0,1571.0 462.0,1566.5 461.0,1562.0 458.5,1559.0 452.5,1555.0 449.0,1551.5 443.0,1536.5 438.0,1534.0 437.0,1529.5 434.0,1525.5 432.5,1520.5 432.5,1518.5 433.5,1517.5 440.5,1524.0 444.0,1524.0 450.0,1520.0 453.5,1513.0 461.5,1512.5 463.0,1511.5 463.5,1506.0 460.5,1502.0 459.0,1497.0 456.5,1494.5 452.0,1493.5 449.0,1495.0 446.0,1498.0 440.0,1498.0 438.0,1499.0 434.0,1504.5 432.0,1510.0 430.5,1511.0 422.5,1499.5 421.5,1492.5 418.0,1488.0 410.0,1485.5 405.0,1486.0 400.0,1488.0 397.0,1492.0 395.0,1501.5 393.0,1503.5 388.0,1503.0 384.0,1510.0 383.0,1513.0 383.0,1523.0 380.5,1528.5 381.0,1533.0 384.0,1538.0 384.0,1540.0 380.5,1546.0 371.0,1555.0 370.0,1560.5 366.0,1565.0 365.5,1573.0 366.5,1575.5 366.5,1579.5 365.5,1580.5 363.5,1578.0 360.0,1562.5 355.5,1561.0 354.5,1559.5 355.0,1542.5 350.0,1527.0 347.5,1524.5 344.0,1524.0 340.0,1521.0 339.0,1496.5 338.0,1493.0 336.0,1490.5 328.0,1485.0 324.0,1483.5 321.5,1483.5 319.0,1482.0 319.5,1480.0 323.0,1475.5 324.0,1468.5 322.5,1465.5 318.0,1461.5 314.0,1460.0 307.5,1461.0 301.0,1464.0 295.5,1469.5 294.5,1471.5 295.0,1477.0 297.5,1480.5 302.5,1483.5 302.5,1485.0 299.0,1488.0 295.0,1488.5 286.0,1484.5 281.5,1484.5 277.5,1487.0 271.5,1489.0 266.5,1493.0 260.0,1494.5 244.5,1502.0ZM343.5,1666.5 345.5,1664.0 347.5,1663.0 351.5,1663.0 356.0,1666.0 357.0,1669.5 354.5,1672.5 349.5,1673.5 347.0,1672.5 344.0,1669.5ZM448.0,1632.0 452.5,1627.0 456.5,1627.5 459.0,1630.5 459.0,1633.5 455.0,1636.0 450.0,1635.0 448.0,1633.0ZM367.0,1601.0 368.5,1602.5 368.5,1604.0 367.0,1606.0 365.0,1606.5 363.5,1605.0 363.5,1603.5 365.0,1601.5ZM449.5,1452.5 446.5,1450.5 434.5,1451.5 432.5,1452.5 430.5,1455.0 430.5,1460.0 432.5,1462.5 435.5,1464.0 441.0,1464.5 444.0,1463.5 449.0,1459.5 450.0,1457.5ZM337.5,1449.0 337.5,1450.5 340.0,1452.0 343.0,1450.5 342.5,1447.5 339.5,1447.5ZM298.0,1428.5 294.0,1430.5 289.5,1435.5 288.5,1438.0 288.5,1443.5 289.5,1446.0 292.5,1449.0 297.0,1451.0 302.0,1451.5 308.0,1448.5 313.0,1443.5 314.0,1440.0 312.0,1435.5 302.5,1429.0ZM330.0,1426.0 328.5,1428.5 328.0,1434.0 329.5,1436.0 331.0,1436.0 332.5,1435.0 333.0,1432.5 332.0,1428.5ZM419.5,1420.5 415.5,1422.0 412.5,1424.5 411.0,1428.0 411.0,1431.5 413.5,1439.5 416.5,1442.5 418.5,1443.5 421.5,1443.5 424.0,1442.5 426.5,1438.5 427.0,1428.0 425.5,1422.5 424.0,1421.0ZM277.5,1412.5 278.0,1416.0 280.5,1419.0 290.0,1422.5 293.0,1422.5 297.5,1421.0 301.0,1418.0 302.0,1415.5 301.5,1412.5 299.0,1409.5 288.0,1405.5 281.5,1406.5 279.0,1409.0ZM426.0,1386.0 425.0,1387.5 425.0,1391.0 426.0,1392.5 427.5,1392.5 428.5,1391.0 428.5,1388.0 427.5,1386.0ZM249.0,1346.5 247.0,1350.0 248.0,1354.0 250.5,1356.0 255.5,1355.5 258.0,1352.5 257.5,1348.5 255.5,1346.5 252.5,1345.5ZM295.0,1355.5 290.0,1352.5 284.0,1345.0 275.0,1341.5 270.0,1341.0 268.0,1342.5 267.5,1344.0 268.5,1354.0 266.5,1359.0 262.0,1363.5 254.5,1368.0 253.5,1370.5 256.0,1374.5 260.0,1376.5 263.0,1377.0 266.5,1376.0 276.5,1369.5 286.0,1367.5 290.5,1365.5 295.5,1359.5ZM251.0,1330.0 252.0,1334.5 254.5,1336.5 258.5,1337.5 260.5,1336.0 260.5,1333.0 257.0,1329.0 253.0,1328.5ZM278.0,1318.0 278.0,1319.5 280.5,1321.0 282.0,1321.0 284.0,1319.5 284.0,1318.0 281.0,1316.5ZM241.5,1292.0 238.0,1295.0 237.5,1302.5 239.0,1305.5 241.0,1306.5 244.0,1306.5 247.0,1305.0 249.5,1301.0 249.5,1296.0 246.5,1292.5ZM321.0,1224.5 323.0,1226.5 326.5,1226.0 326.5,1224.5 325.0,1223.0 322.5,1223.0Z"/>
<path fill="#73dfff" fill-rule="evenodd" d="M427.0,1759.0 418.0,1751.0 414.0,1750.5 407.0,1756.5 402.5,1756.5 397.5,1758.0 395.5,1761.5 395.0,1767.5 396.5,1771.0 398.5,1772.5 404.5,1773.0 416.5,1776.5 419.5,1776.5 427.5,1769.0ZM498.0,1658.5 495.5,1660.0 496.0,1662.0 498.0,1661.5ZM350.0,1578.0 349.5,1581.5 351.5,1584.0 353.5,1585.0 358.0,1584.0 360.5,1580.5 360.0,1578.0 357.0,1576.0 353.0,1576.0ZM241.0,1509.0 237.5,1518.5 237.5,1523.5 239.0,1528.0 233.5,1534.5 227.5,1544.0 227.5,1549.0 230.0,1555.0 245.0,1571.5 248.5,1578.0 247.5,1588.5 249.0,1593.0 241.0,1598.5 240.0,1600.5 240.0,1604.5 241.0,1606.5 243.0,1608.5 246.0,1609.5 254.0,1609.0 259.0,1606.0 259.5,1599.0 261.0,1597.0 270.0,1595.0 283.0,1593.5 293.5,1593.5 300.5,1595.0 303.5,1596.5 306.0,1599.0 310.0,1605.5 309.5,1609.0 305.0,1612.0 299.5,1618.0 288.5,1624.0 275.0,1627.5 267.0,1631.5 264.5,1634.0 262.5,1642.0 259.0,1649.0 258.5,1658.0 265.0,1672.5 263.5,1678.5 264.0,1695.0 266.5,1698.0 280.5,1704.5 286.5,1709.0 295.5,1712.5 304.5,1718.0 310.5,1719.5 321.5,1724.5 330.0,1731.0 339.5,1735.0 344.5,1738.5 353.0,1742.5 357.0,1743.5 359.0,1741.5 360.5,1737.0 362.5,1725.5 362.5,1718.5 360.5,1713.0 357.0,1707.0 341.0,1690.5 338.0,1689.0 332.5,1688.5 329.5,1687.0 325.0,1681.0 324.5,1677.5 331.5,1664.5 332.5,1661.0 341.5,1655.5 353.5,1656.5 362.0,1663.5 366.0,1663.5 370.5,1662.0 376.5,1658.0 380.0,1659.0 383.0,1658.5 384.5,1659.0 389.0,1663.5 393.0,1671.0 396.0,1674.0 400.5,1675.5 403.0,1678.0 406.0,1684.5 410.5,1690.0 422.5,1695.5 425.5,1700.0 426.5,1705.0 421.0,1711.0 416.0,1713.5 405.0,1715.5 405.0,1718.5 407.0,1721.0 418.0,1724.5 425.0,1724.5 437.5,1729.5 443.5,1733.0 453.5,1735.5 469.0,1734.0 477.0,1730.0 482.0,1729.0 486.0,1726.5 486.5,1719.5 488.0,1716.5 488.0,1713.5 484.5,1710.0 481.0,1708.5 479.0,1706.5 479.0,1704.5 481.0,1702.5 489.5,1698.5 493.0,1695.0 500.5,1683.0 506.0,1676.5 506.0,1673.5 502.5,1671.0 485.0,1665.5 471.0,1666.5 467.5,1667.5 464.0,1666.5 456.0,1661.0 451.5,1656.5 447.0,1645.0 445.0,1642.0 444.5,1638.0 440.5,1635.0 439.0,1632.0 439.0,1630.0 441.0,1628.0 447.0,1628.0 452.5,1622.5 462.0,1622.5 469.5,1621.0 475.5,1616.0 481.5,1614.0 484.0,1611.0 483.0,1599.0 486.0,1589.0 488.5,1587.0 491.0,1587.0 495.5,1585.0 500.5,1581.0 507.5,1578.5 510.5,1576.0 512.5,1571.5 512.5,1568.5 509.0,1563.0 503.5,1562.5 498.0,1564.5 486.0,1577.5 478.0,1582.0 475.0,1582.0 470.0,1576.5 462.5,1577.0 459.0,1575.5 446.0,1562.0 442.0,1550.5 440.5,1549.0 435.0,1547.0 434.0,1540.0 428.5,1524.0 427.0,1515.0 424.0,1506.5 419.0,1500.0 417.5,1493.0 414.0,1490.5 406.5,1489.5 401.5,1491.5 400.5,1493.5 400.5,1500.0 395.0,1508.5 395.5,1512.5 398.5,1518.0 398.0,1521.5 393.0,1527.0 390.5,1525.0 387.5,1524.0 386.0,1524.5 383.5,1528.0 383.5,1532.0 384.5,1534.0 388.5,1537.5 388.5,1540.0 385.5,1545.5 375.5,1554.0 373.5,1557.5 373.0,1562.0 368.5,1568.0 368.5,1572.0 370.5,1578.5 369.0,1584.5 367.0,1587.0 363.0,1589.5 354.5,1590.5 346.5,1586.5 344.5,1584.5 341.5,1575.5 342.5,1571.5 346.5,1566.5 350.0,1560.0 352.0,1552.5 351.5,1541.5 347.0,1531.0 345.5,1529.0 341.5,1527.0 338.5,1527.0 337.0,1533.0 337.0,1537.0 332.0,1545.0 330.0,1543.0 328.5,1537.0 329.0,1524.0 335.5,1514.5 336.5,1511.0 337.0,1502.5 335.5,1495.5 328.0,1488.0 324.0,1486.0 307.5,1487.0 303.5,1489.0 301.0,1491.5 300.0,1494.0 297.5,1496.0 294.5,1493.0 289.5,1490.0 281.0,1489.5 275.5,1491.0 270.0,1495.0 261.0,1497.0 254.0,1500.0 244.0,1506.0ZM314.5,1700.0 317.5,1696.5 323.0,1695.5 327.0,1697.0 328.5,1698.5 329.0,1701.0 325.5,1704.0 319.0,1704.5 316.5,1703.5 315.0,1702.0ZM287.5,1688.5 289.5,1686.0 291.0,1685.5 298.0,1685.5 300.5,1686.5 302.5,1688.5 303.0,1690.5 301.5,1692.5 297.5,1694.0 290.5,1693.5 287.5,1691.5ZM383.0,1613.0 384.5,1615.0 384.0,1618.5 382.5,1620.5 379.5,1621.5 377.0,1619.5 376.0,1615.0 377.0,1613.5ZM363.5,1596.0 368.5,1596.5 371.0,1598.5 372.5,1602.0 371.0,1607.5 366.5,1611.0 362.0,1610.5 358.5,1606.0 358.5,1601.0 359.5,1599.0ZM332.0,1554.0 333.5,1555.0 335.5,1560.0 336.0,1566.0 337.5,1570.5 337.5,1572.5 336.5,1573.5 334.0,1572.5 331.5,1569.5 331.0,1556.0ZM319.0,1467.0 317.0,1465.0 312.5,1463.5 307.5,1465.0 303.5,1468.5 302.5,1470.5 302.5,1474.0 304.5,1476.5 306.5,1477.5 315.5,1477.5 319.5,1472.5 320.0,1469.5ZM434.5,1456.5 434.5,1458.5 437.5,1460.5 443.0,1460.0 445.5,1457.5 445.5,1455.5 444.0,1454.5 438.0,1454.5ZM297.0,1433.5 294.0,1436.0 293.0,1438.0 293.5,1443.0 297.5,1445.5 302.0,1445.5 304.0,1444.5 306.5,1441.0 305.5,1437.0 300.5,1433.0ZM421.0,1425.0 418.0,1425.5 415.0,1429.5 415.0,1435.0 416.0,1437.0 419.5,1439.5 422.0,1438.0 424.0,1431.0 423.5,1427.5ZM281.0,1413.0 282.5,1416.0 286.0,1417.5 291.0,1417.5 294.5,1414.5 293.0,1412.0 288.0,1409.5 284.0,1409.5 281.5,1411.5ZM291.0,1357.5 285.5,1353.5 284.5,1351.0 281.5,1347.5 273.0,1345.0 271.5,1346.0 272.0,1356.0 269.0,1363.5 266.5,1366.0 261.0,1368.5 259.5,1370.5 261.0,1372.0 265.0,1372.0 271.0,1367.5 289.0,1361.5 290.5,1360.0ZM242.5,1296.0 241.0,1297.5 241.5,1301.5 243.5,1302.0 245.0,1300.5 245.0,1297.5Z"/>
<path fill="#00a9e6" fill-rule="evenodd" d="M446.5,1720.0 446.5,1721.5 449.0,1723.5 452.0,1723.5 455.0,1721.5 454.0,1719.5 451.0,1718.5 448.5,1718.5ZM459.5,1711.5 459.5,1712.5 463.0,1715.0 469.0,1715.5 470.5,1714.5 470.0,1711.5 467.5,1710.0 462.0,1709.5ZM344.0,1704.0 342.5,1703.0 340.0,1703.0 336.0,1705.0 333.0,1708.5 333.5,1710.5 337.5,1711.0 340.5,1709.5 343.5,1707.0ZM298.5,1698.5 296.0,1699.5 295.0,1701.0 295.0,1703.5 296.0,1705.0 299.5,1706.0 302.5,1704.0 303.0,1702.0 301.0,1699.0ZM281.0,1683.0 276.5,1683.5 273.0,1686.5 272.5,1692.0 275.5,1695.5 279.5,1696.0 282.0,1695.0 284.0,1693.0 284.5,1686.0ZM460.5,1680.5 455.0,1678.0 451.0,1678.5 447.5,1681.0 446.5,1683.0 446.5,1686.0 445.0,1687.5 440.0,1688.0 438.0,1689.0 437.0,1690.5 436.5,1695.0 438.5,1701.5 440.5,1703.0 443.0,1703.5 447.5,1702.5 452.0,1700.0 454.0,1696.5 454.0,1692.0 458.0,1689.5 461.0,1686.0 461.5,1682.5ZM485.0,1676.5 483.5,1675.0 481.0,1674.5 477.0,1675.0 474.5,1677.0 474.5,1678.5 477.0,1680.5 480.0,1681.0 483.5,1679.5ZM261.5,1650.0 261.0,1658.5 266.0,1667.0 268.0,1673.0 270.0,1675.0 275.5,1675.5 281.0,1678.0 296.5,1676.5 301.0,1673.5 303.5,1673.0 308.5,1680.5 311.5,1681.0 318.5,1679.5 322.0,1677.0 328.0,1666.0 327.5,1662.0 324.5,1659.0 321.0,1657.5 316.0,1658.0 308.5,1662.5 307.0,1662.0 303.5,1657.5 301.0,1656.5 292.5,1660.5 289.0,1660.5 285.5,1659.0 284.0,1657.0 284.0,1655.0 286.0,1651.0 285.0,1643.0 282.0,1639.5 277.0,1638.0 273.0,1638.5 269.0,1640.5ZM380.0,1602.0 378.5,1602.5 377.0,1605.0 377.0,1608.0 379.5,1610.5 381.0,1610.0 383.0,1607.5 382.0,1603.0ZM256.0,1598.5 253.5,1596.5 246.0,1597.5 243.5,1599.0 242.0,1601.5 242.5,1605.0 244.0,1606.5 248.0,1607.5 254.0,1606.5 257.0,1604.0 257.0,1600.5ZM429.0,1593.5 426.5,1595.5 425.5,1600.5 426.5,1603.5 428.0,1605.0 431.5,1605.5 434.0,1603.5 435.0,1600.5 433.0,1595.5 431.5,1594.0ZM469.5,1580.0 465.0,1579.5 463.5,1581.0 463.5,1584.0 460.0,1587.0 452.5,1590.5 441.5,1603.5 440.5,1606.0 441.5,1614.5 440.0,1618.5 440.0,1622.0 443.0,1625.5 446.5,1625.0 450.0,1620.0 462.5,1620.0 468.0,1619.0 470.5,1617.5 474.0,1613.5 479.5,1610.5 480.5,1608.5 480.5,1601.0 482.5,1593.0 482.0,1590.5 480.0,1588.5 472.0,1585.0ZM353.0,1579.5 353.5,1581.5 357.0,1581.0 356.5,1579.0ZM435.5,1579.0 434.5,1582.0 437.0,1585.5 441.5,1586.0 444.0,1584.0 444.0,1581.0 442.0,1579.0 439.5,1578.0ZM386.0,1550.0 380.0,1553.0 376.5,1556.5 375.0,1563.0 370.5,1569.0 373.0,1581.5 378.5,1594.5 381.0,1597.0 383.5,1597.0 390.0,1591.5 390.5,1586.0 391.5,1584.5 397.0,1587.0 399.5,1587.0 401.0,1589.0 401.5,1591.5 406.5,1596.5 405.5,1600.0 400.0,1604.0 396.5,1609.0 396.5,1615.0 397.5,1618.5 401.5,1623.5 404.0,1628.5 404.5,1632.5 407.0,1639.0 406.5,1643.5 405.0,1647.0 405.0,1650.0 406.5,1654.0 406.5,1659.0 403.5,1664.0 403.5,1671.0 407.0,1680.5 409.5,1684.0 414.5,1686.5 426.0,1686.5 428.5,1685.5 429.5,1684.0 429.0,1676.0 430.0,1673.5 432.0,1672.0 435.5,1672.5 439.5,1669.5 441.5,1665.0 442.0,1661.0 444.0,1659.0 447.5,1657.5 447.5,1654.5 444.5,1647.0 433.5,1641.5 425.5,1631.0 424.5,1628.5 424.5,1614.5 421.5,1604.0 419.5,1600.5 419.5,1598.5 424.0,1591.0 424.0,1579.5 429.5,1574.0 431.0,1570.0 433.5,1569.5 437.0,1573.5 439.0,1574.5 445.0,1574.5 448.5,1572.0 448.5,1569.0 443.5,1564.0 442.0,1561.0 440.5,1553.5 438.0,1551.0 426.0,1551.0 423.0,1553.0 422.5,1555.0 421.0,1556.5 419.0,1557.0 408.5,1556.5 402.5,1550.5ZM388.0,1572.5 390.5,1573.5 390.5,1575.5 389.0,1578.0 387.5,1577.0 386.5,1574.5ZM344.5,1536.5 341.0,1537.5 338.0,1540.0 335.5,1543.5 334.5,1547.0 335.5,1553.5 337.5,1557.5 339.5,1559.0 342.0,1559.0 346.5,1557.0 349.5,1552.0 349.0,1543.0 347.0,1538.5ZM387.0,1527.5 386.0,1528.5 386.0,1531.5 387.5,1533.0 389.0,1533.0 390.0,1530.0 388.5,1527.5ZM409.5,1522.0 404.0,1525.0 399.5,1529.5 399.0,1534.5 403.0,1539.5 408.5,1541.5 412.0,1541.5 417.0,1539.5 420.0,1536.5 421.0,1532.5 419.5,1528.5 417.5,1526.0ZM414.0,1500.0 406.5,1501.0 403.0,1502.5 399.0,1506.0 397.5,1509.5 398.0,1512.0 402.0,1517.0 408.5,1520.0 411.0,1520.0 419.0,1516.0 421.5,1513.5 422.5,1510.0 421.0,1506.0ZM245.0,1508.0 242.5,1510.5 239.5,1518.5 239.5,1522.5 241.5,1526.5 242.5,1531.0 246.0,1533.5 256.0,1536.0 257.5,1537.5 259.0,1543.5 258.0,1544.5 255.0,1544.5 250.0,1543.0 244.0,1543.0 235.0,1549.0 233.0,1551.0 233.0,1553.0 234.5,1555.5 240.0,1560.0 250.0,1560.5 258.5,1563.0 265.5,1563.5 273.0,1568.0 273.5,1570.0 271.5,1572.5 268.0,1572.5 263.5,1571.0 259.5,1572.5 259.0,1575.5 262.0,1579.5 262.0,1582.0 260.5,1585.0 261.5,1589.5 264.0,1591.5 267.0,1592.5 276.5,1592.5 286.0,1591.0 289.5,1588.5 292.5,1582.0 295.0,1579.5 298.0,1579.0 302.5,1580.0 305.0,1583.0 306.5,1589.5 310.0,1598.5 313.0,1601.5 320.5,1603.5 324.0,1606.0 323.5,1609.0 315.0,1618.5 315.0,1622.0 316.0,1624.0 320.0,1627.5 322.5,1628.0 326.0,1626.5 327.5,1626.5 328.5,1627.5 324.5,1633.0 322.0,1643.5 322.5,1651.0 325.5,1656.0 328.5,1657.0 336.0,1656.0 348.5,1646.0 352.0,1646.5 355.0,1648.5 360.5,1658.0 363.5,1660.5 370.0,1659.5 375.0,1654.0 379.0,1656.0 381.5,1656.0 383.0,1654.5 382.5,1650.0 380.5,1648.0 378.5,1648.0 375.5,1650.0 374.0,1648.5 370.0,1634.5 367.5,1631.5 361.0,1627.5 358.5,1625.0 355.5,1617.5 354.5,1611.5 352.5,1607.5 348.5,1602.5 346.0,1597.0 344.0,1595.5 339.0,1595.0 337.0,1593.0 339.0,1588.0 339.0,1582.0 337.5,1579.0 329.0,1571.0 328.5,1547.0 326.5,1540.5 321.0,1538.5 310.0,1536.5 302.0,1536.5 298.5,1537.5 293.5,1536.0 290.0,1536.0 285.0,1538.5 281.0,1538.0 279.5,1536.5 277.5,1531.0 271.5,1527.0 272.0,1524.5 275.5,1519.5 277.0,1514.5 276.0,1501.5 275.0,1499.0 273.0,1497.5 267.5,1497.5 260.5,1499.5 251.0,1504.0ZM308.0,1565.0 311.5,1569.0 311.0,1571.0 309.5,1570.5 307.5,1566.5ZM297.0,1562.5 299.0,1561.0 302.0,1561.0 304.0,1562.5 304.0,1563.5 302.5,1564.5 298.0,1565.0 297.0,1564.0ZM327.0,1490.0 323.0,1488.0 309.5,1489.0 306.5,1490.0 304.0,1492.5 303.0,1496.5 298.0,1502.5 293.5,1502.5 291.5,1513.0 291.5,1522.5 292.5,1525.5 294.5,1527.5 299.0,1529.0 301.0,1527.5 302.5,1523.0 305.0,1521.0 308.5,1522.0 316.5,1527.0 321.0,1527.0 324.0,1525.5 333.5,1514.0 335.0,1502.0 334.0,1497.5ZM313.5,1468.0 312.0,1468.0 311.0,1469.0 311.0,1470.5 312.5,1471.5 314.5,1469.5Z"/>
<path fill="#ffaa00" fill-rule="evenodd" d="M441.0,1693.5 441.0,1697.0 443.0,1699.0 446.5,1699.0 449.5,1696.5 449.0,1694.0 447.0,1692.5 443.0,1692.0ZM278.5,1687.5 277.5,1688.5 277.5,1690.5 279.5,1691.0 280.5,1690.0 280.5,1688.5ZM452.0,1683.5 453.0,1685.5 455.0,1685.0 454.5,1683.0ZM322.0,1662.5 320.0,1661.5 316.0,1662.0 309.5,1667.5 309.0,1672.0 311.0,1675.5 316.5,1675.5 319.0,1674.5 321.5,1672.0 324.0,1667.0 324.0,1665.0ZM267.0,1656.5 271.0,1668.5 274.5,1671.0 282.0,1672.5 294.5,1672.0 299.0,1669.0 301.5,1666.0 301.5,1663.5 300.5,1662.5 298.5,1662.5 294.0,1664.5 289.5,1664.5 283.0,1661.5 278.0,1661.5 275.5,1659.5 274.0,1655.0 272.5,1653.5 268.5,1654.5ZM410.5,1600.5 409.0,1601.0 402.5,1607.0 401.0,1611.5 401.5,1616.5 407.5,1626.5 408.0,1632.0 410.5,1638.0 411.0,1660.0 407.0,1667.5 407.0,1672.0 411.5,1680.5 414.5,1682.0 420.0,1682.0 423.0,1681.0 424.5,1678.5 425.5,1673.5 425.0,1664.0 428.0,1656.0 428.0,1645.0 426.5,1639.5 422.5,1634.5 419.5,1629.0 420.5,1615.5 418.5,1607.0 413.5,1601.0ZM245.5,1601.5 245.5,1603.0 248.5,1604.5 253.0,1603.0 253.0,1601.5 251.0,1600.0 248.0,1600.0ZM334.0,1599.0 329.0,1606.5 328.0,1613.5 326.5,1615.0 321.5,1617.0 320.0,1619.5 320.5,1621.5 323.0,1622.0 328.0,1618.0 329.5,1618.0 332.5,1620.5 334.5,1625.0 333.5,1629.0 329.0,1634.0 327.0,1638.5 325.5,1644.5 326.5,1651.0 329.0,1653.0 334.0,1653.0 336.0,1651.5 337.5,1648.5 343.5,1643.0 347.0,1642.0 351.5,1642.0 355.0,1643.5 358.5,1647.0 364.0,1657.0 368.0,1657.0 370.0,1654.5 370.0,1648.5 366.5,1636.5 363.5,1633.0 357.5,1629.5 355.0,1626.5 350.5,1612.5 343.5,1601.0 341.0,1599.0ZM478.5,1593.0 471.0,1588.5 465.5,1588.5 454.5,1593.5 452.0,1596.0 448.5,1601.5 445.5,1604.5 444.5,1609.0 447.0,1612.5 453.0,1617.0 460.5,1617.5 467.5,1616.0 476.5,1605.0 479.0,1596.0ZM380.0,1556.5 378.0,1559.5 378.0,1566.0 373.5,1569.0 373.5,1572.5 379.5,1587.0 382.5,1589.5 385.0,1589.5 386.5,1587.5 386.0,1584.5 382.0,1576.5 382.0,1569.0 383.5,1568.0 391.5,1567.5 399.0,1565.5 403.0,1569.0 405.0,1574.0 405.5,1587.5 406.5,1590.0 413.0,1596.0 416.0,1595.5 419.0,1590.5 419.0,1580.0 421.0,1576.0 425.0,1571.0 425.0,1568.5 421.0,1562.0 416.5,1560.0 404.5,1561.0 403.0,1559.5 401.5,1555.5 399.0,1554.0 394.5,1554.5 387.0,1553.5ZM344.0,1541.5 340.5,1542.0 338.0,1544.5 337.0,1547.5 338.5,1553.5 341.0,1555.0 345.0,1553.0 346.5,1551.0 346.0,1544.5ZM238.5,1552.5 239.0,1554.5 242.5,1556.5 251.5,1556.5 257.5,1558.5 267.0,1559.5 277.0,1566.5 277.5,1570.5 275.0,1575.0 269.5,1578.0 266.0,1583.0 265.5,1586.5 268.5,1589.0 272.5,1590.0 282.0,1588.5 285.5,1586.0 288.5,1581.0 288.5,1579.5 285.5,1574.5 290.0,1568.5 291.5,1560.5 294.0,1558.0 301.0,1555.5 311.5,1558.5 313.5,1561.0 315.5,1567.5 318.0,1572.0 317.5,1574.5 315.5,1576.0 309.5,1577.0 308.0,1578.5 308.0,1581.0 311.5,1591.5 315.0,1597.5 320.5,1599.0 323.5,1598.5 330.5,1593.0 335.0,1587.5 335.5,1584.0 334.0,1579.5 325.0,1572.5 326.0,1566.0 325.5,1549.0 324.5,1545.0 322.0,1543.0 308.5,1540.5 289.5,1540.5 285.0,1542.0 279.0,1542.0 277.0,1540.0 274.5,1534.0 271.0,1533.0 269.5,1535.0 270.0,1539.0 268.5,1545.5 268.5,1551.5 267.0,1553.0 265.5,1553.0 261.0,1550.0 247.5,1546.5 243.0,1548.0ZM403.5,1530.5 403.5,1534.0 405.5,1536.0 408.5,1537.0 413.0,1536.5 416.5,1533.0 416.0,1530.0 412.0,1527.0 408.0,1527.0ZM418.5,1508.5 415.5,1505.5 410.0,1505.0 405.5,1505.5 402.0,1507.0 400.5,1510.5 403.5,1514.0 406.5,1515.0 412.0,1515.0 416.5,1513.0 418.5,1510.5ZM270.0,1500.5 266.5,1500.5 257.0,1504.0 249.0,1508.5 244.0,1513.0 242.0,1518.0 242.0,1521.5 244.5,1526.5 247.5,1530.0 250.5,1531.0 261.5,1531.0 265.0,1528.5 269.5,1521.5 272.5,1513.5 272.0,1503.0ZM321.5,1490.5 311.5,1491.5 309.0,1492.5 307.0,1494.5 305.5,1499.0 300.5,1506.5 302.0,1513.5 304.0,1516.0 312.0,1520.5 319.0,1522.5 323.5,1521.0 329.5,1515.5 331.5,1512.0 332.5,1507.0 332.5,1502.0 331.0,1498.0 326.0,1492.5Z"/>
<path fill="#ff5500" fill-rule="evenodd" d="M415.0,1665.0 413.0,1665.0 410.5,1668.0 410.0,1671.0 412.0,1674.0 414.0,1674.0 416.0,1671.0 416.5,1667.0ZM415.5,1633.5 414.0,1635.5 413.5,1647.5 414.5,1652.0 415.5,1653.0 417.5,1653.0 419.0,1652.0 420.5,1649.0 420.5,1643.5 419.0,1636.5 417.5,1634.0ZM334.0,1606.0 332.5,1608.0 332.5,1611.5 336.5,1618.0 338.0,1623.0 338.0,1626.5 336.5,1630.5 331.0,1636.5 330.0,1642.0 331.0,1643.0 332.5,1643.0 338.5,1639.0 345.5,1636.0 351.5,1636.5 359.0,1640.0 362.5,1640.5 362.5,1637.0 355.0,1632.5 352.0,1629.0 348.0,1615.5 342.0,1606.0 340.5,1605.0ZM411.0,1604.0 409.5,1604.5 406.0,1608.5 405.0,1611.5 405.0,1615.5 406.0,1618.0 410.0,1622.0 412.5,1622.5 415.0,1618.5 415.5,1608.0 413.5,1605.0ZM475.0,1595.0 470.5,1592.0 466.5,1592.0 456.5,1595.5 448.5,1605.5 448.0,1609.0 454.0,1614.0 459.0,1614.5 466.0,1613.0 472.5,1604.5 474.5,1600.0ZM330.5,1580.0 323.0,1576.5 313.0,1580.0 312.5,1583.0 315.5,1592.0 318.5,1594.5 321.0,1594.5 326.0,1590.0 329.5,1588.5 332.0,1584.5ZM416.5,1564.0 409.5,1564.0 407.5,1566.0 407.0,1569.0 410.0,1581.0 412.0,1576.5 412.5,1568.0 414.0,1566.0 416.5,1565.5ZM393.0,1558.0 389.5,1556.5 384.0,1557.5 381.5,1560.0 381.5,1562.5 384.0,1564.5 389.5,1564.0 393.0,1561.5ZM318.5,1555.5 317.0,1556.5 317.0,1562.0 318.5,1566.0 320.0,1566.5 321.5,1564.0 321.5,1558.5 320.5,1556.5ZM341.5,1545.5 340.5,1546.5 340.5,1549.5 342.5,1550.0 343.5,1547.0 342.5,1545.5ZM279.5,1547.5 280.0,1549.0 282.5,1551.0 300.0,1550.5 304.5,1549.5 306.5,1552.0 308.5,1551.5 308.5,1549.0 306.5,1547.0 301.0,1544.0 284.5,1544.5 281.0,1545.5ZM406.5,1510.5 410.0,1511.5 413.0,1510.0 412.0,1509.0 408.0,1509.0ZM268.0,1504.0 264.5,1504.5 255.5,1508.5 246.5,1515.5 245.5,1520.5 250.0,1527.0 259.5,1527.5 263.0,1525.0 267.0,1519.0 268.5,1514.0ZM321.5,1493.5 314.5,1494.5 310.5,1496.5 308.5,1502.5 305.0,1507.0 305.0,1512.0 306.5,1514.0 317.0,1518.5 321.0,1518.5 327.5,1513.5 329.5,1508.5 329.5,1501.5 327.0,1497.5 324.0,1494.5Z"/>
</g></g>
<g clip-path="url(#ck)">
<path d="M354.1,1255.4 L372.9,1260.9 L376.2,1279.8 L375.1,1297.5 L379.6,1313.1 L375.1,1337.5 L384.0,1355.2 L392.9,1370.7 L410.6,1377.4 L412.4,1399.6 L408.4,1411.8 L398.4,1412.9 L391.3,1402.0 L386.2,1384.0 L377.4,1373.0 L368.5,1368.5 L369.6,1355.2 L361.8,1346.3 L353.0,1333.0 L347.4,1319.7 L348.5,1302.0 L353.0,1284.2Z" fill="#0b5be0"/>
<path d="M202.9,1584.6 L209.8,1577.3 L211.6,1588.5 L209.0,1594.5 L215.9,1597.1 L219.3,1598.8 L218.5,1603.1 L222.8,1608.3 L228.0,1611.8 L230.5,1615.2 L233.1,1620.4 L236.6,1619.5 L238.3,1610.9 L236.6,1607.4 L241.8,1605.7 L248.7,1604.9 L258.1,1600.5 L265.0,1600.5 L267.6,1606.6 L272.8,1613.5 L271.1,1616.1 L264.2,1615.2 L255.6,1611.8 L248.7,1612.6 L245.2,1616.9 L243.5,1622.1 L246.9,1627.3 L245.2,1630.7 L238.3,1631.6 L234.9,1628.1 L230.5,1626.4 L224.5,1628.1 L220.2,1632.5 L215.9,1637.6 L215.0,1642.8 L215.9,1649.7 L219.3,1653.2 L222.8,1656.6 L220.2,1663.5 L218.5,1667.8 L215.9,1668.9 L211.6,1669.7 L204.2,1666.3 L202.5,1637.6 L203.4,1620.4 L206.0,1598.8Z" fill="#0b5be0"/>
<ellipse cx="365.1" cy="1543.8" rx="3.0" ry="7.0" transform="rotate(8 365.1 1543.8)" fill="#0b5be0"/>
<ellipse cx="382.6" cy="1650.2" rx="5.5" ry="3.5" transform="rotate(-15 382.6 1650.2)" fill="#0b5be0"/>
<ellipse cx="365.1" cy="1618.9" rx="1.3" ry="2.3" transform="rotate(0 365.1 1618.9)" fill="#0b5be0"/>
<ellipse cx="377.1" cy="1731.3" rx="1.5" ry="6.3" transform="rotate(8 377.1 1731.3)" fill="#0b5be0"/>
<ellipse cx="400.1" cy="1424.4" rx="2.3" ry="1.3" transform="rotate(0 400.1 1424.4)" fill="#0b5be0"/>
<ellipse cx="442.7" cy="1586.4" rx="1.0" ry="2.5" transform="rotate(0 442.7 1586.4)" fill="#0b5be0"/>
<ellipse cx="366.4" cy="1572.6" rx="1.0" ry="3.5" transform="rotate(0 366.4 1572.6)" fill="#0b5be0"/>
</g>
<g fill="none" stroke="#979797" stroke-width="1.05" stroke-linejoin="round">
<path d="M503.8,1495.1 L535.1,1460.0 L577.6,1436.3"/>
<path d="M573.8,1401.3 L577.6,1420.0 L578.8,1436.3 L595.1,1462.5 L615.1,1477.6 L603.8,1483.8 L616.4,1518.8 L625.1,1537.6 L640.1,1555.1 L665.1,1565.1 L675.1,1572.6 L685.1,1576.4 L707.7,1570.1 L720.2,1562.6 L729.7,1558.9"/>
<path d="M616.4,1518.8 L605.1,1525.1 L595.1,1537.6 L582.6,1542.6 L570.1,1550.1 L557.6,1553.9 L560.1,1565.1 L563.8,1585.1 L562.6,1595.1"/>
<path d="M537.6,1597.6 L562.6,1595.1 L585.1,1592.6 L600.1,1600.1 L615.1,1602.6 L627.6,1615.1 L630.1,1627.6 L640.1,1635.2 L645.1,1640.2"/>
<path d="M512.5,1543.8 L537.6,1597.6 L580.1,1679.9"/>
<path d="M511.3,1532.6 L495.0,1540.1 L475.0,1550.1 L476.3,1556.4 L512.5,1543.8"/>
<path d="M604.2,1333.0 L607.6,1359.6 L590.9,1373.0 L584.3,1395.0 L574.3,1401.8 L577.6,1420.0 L577.5,1436.2"/>
<path d="M639.7,1318.6 L640.2,1343.0 L657.5,1350.8 L679.6,1370.7 L693.0,1379.6 L695.2,1390.7 L706.3,1412.9 L715.0,1420.0 L730.0,1430.0"/>
<path d="M580.1,1677.5 L581.3,1717.5 L578.8,1720.1 L575.1,1760.1 L555.1,1773.8 L586.3,1818.9 L597.6,1820.1"/>
<path d="M597.6,1820.1 L648.9,1765.1 L667.6,1792.6"/>
<path d="M645.1,1640.0 L657.6,1677.5 L667.6,1715.0 L671.4,1742.6 L675.1,1770.1 L705.2,1772.6"/>
<path d="M671.4,1742.6 L722.7,1719.5 L772.7,1715.0"/>
<path d="M597.6,1820.1 L590.1,1860.1 L577.6,1865.1 L582.6,1870.1 L575.1,1890.2 L542.6,1900.2"/>
<path d="M590.1,1860.1 L605.1,1858.9 L612.6,1872.6 L622.6,1885.2 L625.1,1890.2"/>
<path d="M485.0,1828.9 L500.0,1827.6 L502.5,1800.1 L517.5,1792.6 L532.6,1800.1 L542.6,1812.6 L567.6,1818.9 L586.3,1818.9"/>
<path d="M495.0,1700.0 L505.0,1750.1 L525.0,1770.1 L537.6,1795.1 L542.6,1812.6"/>
<path d="M480.0,1770.1 L485.0,1780.1 L500.0,1800.1 L502.5,1800.1"/>
<path d="M285.0,1402.6 L293.8,1392.6 L300.0,1410.1 L310.0,1432.6 L320.0,1455.1 L342.6,1472.6 L360.1,1497.7 L377.6,1517.7 L395.1,1539.9"/>
<path d="M403.8,1412.6 L413.8,1405.1 L422.6,1427.6 L432.6,1442.6 L445.1,1447.6 L460.1,1467.6 L475.1,1487.6 L495.1,1485.1 L505.2,1502.7 L511.4,1532.7"/>
<path d="M403.8,1412.6 L410.1,1422.6 L400.1,1435.1 L395.1,1465.1 L380.1,1477.6 L390.1,1490.2 L387.6,1502.7 L390.1,1525.2"/>
<path d="M640.2,1320.0 L640.2,1342.6 L666.0,1360.1"/>
<path d="M272.6,1510.1 L295.1,1507.6 L320.1,1525.1 L326.3,1565.1 L330.1,1595.1 L345.1,1615.1"/>
<path d="M240.0,1530.1 L272.6,1530.1 L292.6,1525.1 L295.1,1507.6"/>
<path d="M272.6,1530.1 L277.6,1550.1 L300.1,1565.1 L310.1,1582.6 L300.1,1597.6 L272.6,1602.6 L250.0,1590.1 L240.0,1565.1 L222.5,1562.6"/>
<path d="M300.1,1597.6 L315.1,1615.1 L300.1,1630.2 L272.6,1640.2 L252.5,1655.2 L250.0,1679.9"/>
<path d="M345.1,1615.1 L375.1,1610.1 L390.1,1630.2 L387.6,1655.2 L380.1,1665.2 L382.6,1679.9"/>
<path d="M375.1,1610.1 L380.1,1580.1 L370.1,1565.1 L380.1,1545.1 L390.1,1532.6 L397.6,1510.1"/>
<path d="M390.1,1532.6 L425.1,1540.1 L460.2,1550.1 L477.7,1565.1 L512.7,1537.6"/>
<path d="M425.1,1540.1 L430.2,1580.1 L445.2,1600.1 L440.2,1630.2 L465.2,1645.2 L497.7,1655.2 L502.7,1670.2"/>
<path d="M445.2,1600.1 L480.2,1610.1 L505.2,1590.1 L540.2,1597.6"/>
<path d="M390.1,1630.2 L415.1,1635.2 L440.2,1630.2"/>
<path d="M362.6,1745.1 L365.1,1702.5 L382.6,1672.5 L397.6,1670.0 L397.6,1687.5 L425.1,1700.0 L430.2,1715.0 L442.7,1725.1 L465.2,1747.6 L485.2,1757.6 L480.2,1770.1"/>
<path d="M397.6,1687.5 L415.1,1687.5 L440.2,1680.0 L465.2,1685.0 L480.2,1702.5 L495.2,1700.0"/>
</g>
<path d="M364,1260 L364,1345" stroke="#8fa8d8" stroke-width="0.6" fill="none"/>
<path d="M304.2,1188.4 L340.8,1190.0 L347.4,1194.4 L348.5,1224.3 L353.0,1233.2 L354.0,1251.0 L358.5,1257.6 L364.0,1259.8 L421.7,1261.0 L435.0,1266.5 L480.0,1295.3 L507.7,1314.2 L516.6,1322.6 L544.3,1322.0 L546.5,1319.3 L552.0,1323.0 L559.9,1325.3 L575.4,1330.4 L588.7,1328.6 L604.2,1332.6 L618.6,1334.1 L622.0,1338.6 L639.7,1318.6 L646.4,1303.7 L670.8,1289.8 L712.9,1273.1 L720.7,1276.5 L724.0,1282.0 L744.0,1297.5 L768.4,1295.8 L786.1,1294.2 L798.3,1295.3 L757.3,1356.3 L730.7,1381.4 L730.2,1652.5 L772.5,1713.8 L762.5,1727.5 L755.0,1735.0 L745.0,1745.0 L727.5,1757.5 L715.0,1770.0 L700.0,1776.2 L690.0,1780.0 L675.0,1790.0 L668.8,1795.0 L667.5,1815.0 L670.0,1820.0 L662.5,1835.0 L655.0,1840.0 L647.5,1855.0 L642.5,1865.0 L635.0,1880.0 L632.5,1890.0 L625.0,1900.0 L622.5,1915.0 L617.5,1929.8 L606.0,1936.0 L598.0,1940.3 L492.5,1865.0 L490.0,1860.0 L485.0,1855.0 L478.8,1853.8 L477.5,1847.5 L485.0,1840.0 L486.3,1830.0 L483.8,1820.0 L482.5,1818.8 L215.0,1667.5 L211.0,1669.0 L203.8,1665.0 L204.3,1644.0 L205.4,1621.8 L204.3,1599.6 L202.8,1584.1 L208.8,1577.5 L215.4,1568.6 L217.6,1555.3 L222.1,1547.5 L230.9,1542.0 L239.8,1530.9 L246.5,1519.8 L248.7,1509.8 L259.8,1503.1 L267.5,1499.8 L270.9,1488.7 L274.2,1477.6 L279.7,1473.2 L284.2,1457.7 L285.3,1444.4 L280.9,1422.2 L279.7,1406.7 L270.9,1395.1 L264.2,1379.6 L255.4,1373.0 L248.7,1355.2 L243.2,1337.5 L242.0,1318.6 L231.0,1315.3 L223.2,1306.4 L220.5,1303.0 L221.5,1300.0 L217.6,1297.5 L214.3,1288.7 L211.0,1283.0 L208.8,1276.5Z" fill="none" stroke="#000" stroke-width="1.85" stroke-linejoin="round"/>
<path d="M772.5,1713.8 L762.5,1727.5 L755.0,1735.0 L745.0,1745.0 L727.5,1757.5 L715.0,1770.0 L700.0,1776.2 L690.0,1780.0 L675.0,1790.0 L668.8,1795.0 L667.5,1815.0 L670.0,1820.0 L662.5,1835.0 L655.0,1840.0 L647.5,1855.0 L642.5,1865.0 L635.0,1880.0 L632.5,1890.0 L625.0,1900.0 L622.5,1915.0 L617.5,1929.8 L606.0,1936.0 L598.0,1940.3" fill="none" stroke="#000" stroke-width="2.2" stroke-linejoin="round"/>
<path d="M713,1737 l5,-4 5,2 4,-5 6,1 5,-5 7,1 4,-4 6,0 -2,5 -6,3 -3,5 -7,2 -4,5 -6,2 -5,6 -7,1 -3,-4 4,-5 5,-3 -3,-4z M708,1759 l6,-3 9,1 6,-3 4,3 -6,5 -9,2 -8,-1z M741,1741 l6,-5 8,-2 -3,6 -7,4z" fill="#000"/>
<path d="M621,1893 l5,-5 5,1 3,-6 4,2 -2,7 -5,6 -7,2z M640,1860 l4,-3 3,4 -4,5z M652,1840 l4,-3 2,4 -4,4z M666,1812 l4,-2 2,5 -4,3z" fill="#000"/>
<path d="M772.7,1715.0 L791.5,1715.0 L785.2,1723.8 L762.7,1750.1 L745.2,1770.1 L715.2,1795.1 L700.2,1810.1 L685.1,1835.1 L670.1,1860.1 L655.1,1887.7 L635.1,1929.9 L622.0,1948.0 L614.4,1955.4 L609.0,1952.0 L598.0,1940.3" fill="none" stroke="#7a2458" stroke-width="1.4"/>
<text transform="translate(649,1889) rotate(-56)" font-size="10.5" fill="#d6e8ff" textLength="94" lengthAdjust="spacingAndGlyphs">Territorial Boundary</text>
<text x="688.8" y="1897.5" font-size="14.5" fill="#0a3aa0" textLength="108.5" lengthAdjust="spacingAndGlyphs">INDIAN OCEAN</text>
</g>
<rect x="187.7" y="1169.5" width="623.9" height="817.7" fill="none" stroke="#000" stroke-width="1.7"/>
<text x="356.5" y="1197" font-size="25" fill="#111" textLength="458.5" lengthAdjust="spacingAndGlyphs">7 DAY CUMULATIVE RAINFALL FORECAST</text>
<text x="429.8" y="1222.9" font-size="25" fill="#111" textLength="318.3" lengthAdjust="spacingAndGlyphs" xml:space="preserve" style="white-space:pre">VALID 21ST - 27TH  OCT 2025</text>
<text x="198.3" y="1240.3" font-size="22" font-weight="bold" fill="#0a0a0a" textLength="46.6" lengthAdjust="spacingAndGlyphs">KMD</text>
<path d="M181,1294.0 H187.7" stroke="#000" stroke-width="1.2"/>
<text x="169.0" y="1298.6" font-size="12.4" text-anchor="middle" fill="#222">4° N</text>
<path d="M181,1443.7 H187.7" stroke="#000" stroke-width="1.2"/>
<text x="169.0" y="1448.3" font-size="12.4" text-anchor="middle" fill="#222">2° N</text>
<path d="M181,1592.3 H187.7" stroke="#000" stroke-width="1.2"/>
<text x="171.0" y="1596.9" font-size="12.4" text-anchor="middle" fill="#222">0°</text>
<path d="M181,1741.0 H187.7" stroke="#000" stroke-width="1.2"/>
<text x="169.0" y="1745.6" font-size="12.4" text-anchor="middle" fill="#222">2° S</text>
<path d="M181,1890.7 H187.7" stroke="#000" stroke-width="1.2"/>
<text x="169.0" y="1895.3" font-size="12.4" text-anchor="middle" fill="#222">4° S</text>
<path d="M209.0,1987.2 V1993" stroke="#000" stroke-width="1.2"/>
<text x="209.0" y="2005.4" font-size="12.4" text-anchor="middle" fill="#222">34° E</text>
<path d="M358.2,1987.2 V1993" stroke="#000" stroke-width="1.2"/>
<text x="358.2" y="2005.4" font-size="12.4" text-anchor="middle" fill="#222">36° E</text>
<path d="M507.5,1987.2 V1993" stroke="#000" stroke-width="1.2"/>
<text x="507.5" y="2005.4" font-size="12.4" text-anchor="middle" fill="#222">38° E</text>
<path d="M656.3,1987.2 V1993" stroke="#000" stroke-width="1.2"/>
<text x="656.3" y="2005.4" font-size="12.4" text-anchor="middle" fill="#222">40° E</text>
<path d="M805.5,1987.2 V1993" stroke="#000" stroke-width="1.2"/>
<text x="790.0" y="2005.4" font-size="12.4" fill="#222">42° E</text>
<text x="204.4" y="1762.9" font-size="13.4" font-weight="bold" fill="#111" textLength="129.4" lengthAdjust="spacingAndGlyphs">Rainfall Distribution</text>
<rect x="203.7" y="1774.3" width="34.7" height="16.7" fill="#ffffff" stroke="#9a9a9a" stroke-width="1"/>
<text x="245" y="1787.5" font-size="13.5" font-weight="bold" fill="#111">&lt; 1 mm</text>
<rect x="203.7" y="1797.6" width="34.7" height="16.7" fill="#d3ffbe" stroke="#9a9a9a" stroke-width="1"/>
<text x="245" y="1810.8" font-size="13.5" font-weight="bold" fill="#111">1 - 10 mm</text>
<rect x="203.7" y="1820.8" width="34.7" height="16.7" fill="#4ce600" stroke="#9a9a9a" stroke-width="1"/>
<text x="245" y="1834.0" font-size="13.5" font-weight="bold" fill="#111">10 - 20 mm</text>
<rect x="203.7" y="1844.1" width="34.7" height="16.7" fill="#73dfff" stroke="#9a9a9a" stroke-width="1"/>
<text x="245" y="1857.3" font-size="13.5" font-weight="bold" fill="#111">20 - 50 mm</text>
<rect x="203.7" y="1867.4" width="34.7" height="16.7" fill="#00a9e6" stroke="#9a9a9a" stroke-width="1"/>
<text x="245" y="1880.6" font-size="13.5" font-weight="bold" fill="#111">50 - 70 mm</text>
<rect x="203.7" y="1890.6" width="34.7" height="16.7" fill="#ffaa00" stroke="#9a9a9a" stroke-width="1"/>
<text x="245" y="1903.8" font-size="13.5" font-weight="bold" fill="#111">70 - 100 mm</text>
<rect x="203.7" y="1913.9" width="34.7" height="16.7" fill="#ff5500" stroke="#9a9a9a" stroke-width="1"/>
<text x="245" y="1927.1" font-size="13.5" font-weight="bold" fill="#111">&gt; 100 mm</text>
<rect x="203.7" y="1937.2" width="34.7" height="16.7" fill="#ffffff" stroke="#9a9a9a" stroke-width="1"/>
<text x="245" y="1950.4" font-size="13.5" font-weight="bold" fill="#111">Kenya_Counties</text>
<rect x="203.7" y="1960.5" width="34.7" height="16.7" fill="#005ce6" stroke="#9a9a9a" stroke-width="1"/>
<text x="245" y="1973.7" font-size="13.5" font-weight="bold" fill="#111">Water Bodies</text>
<path d="M405.2,1986.6 H672.8" stroke="#000" stroke-width="2"/>
<path d="M405.2,1987 V1978.0" stroke="#000" stroke-width="1.2"/>
<path d="M438.6,1987 V1982.0" stroke="#000" stroke-width="1.2"/>
<path d="M472.1,1987 V1978.0" stroke="#000" stroke-width="1.2"/>
<path d="M505.6,1987 V1982.0" stroke="#000" stroke-width="1.2"/>
<path d="M539.0,1987 V1978.0" stroke="#000" stroke-width="1.2"/>
<path d="M572.5,1987 V1982.0" stroke="#000" stroke-width="1.2"/>
<path d="M605.9,1987 V1982.0" stroke="#000" stroke-width="1.2"/>
<path d="M639.4,1987 V1982.0" stroke="#000" stroke-width="1.2"/>
<path d="M672.8,1987 V1978.0" stroke="#000" stroke-width="1.2"/>
<text x="405.2" y="1971.8" font-size="12.6" font-weight="bold" text-anchor="middle" fill="#111">0</text>
<text x="473.0" y="1971.8" font-size="12.6" font-weight="bold" text-anchor="middle" fill="#111">100</text>
<text x="539.8" y="1971.8" font-size="12.6" font-weight="bold" text-anchor="middle" fill="#111">200</text>
<text x="662.7" y="1971.8" font-size="12.6" font-weight="bold" fill="#111">400 Km</text>
<path d="M775.5,1513.8 V1418" stroke="#111" stroke-width="1.4" fill="none"/>
<path d="M771.6,1432.2 L775.5,1413.2 L779.4,1431.8 L775.5,1423.5z" fill="#111"/>
<text x="764" y="1481" font-size="28" font-style="italic" style="font-family:'Liberation Serif',serif" fill="#555">N</text>
<circle cx="273.1" cy="1314.8" r="2.6" fill="#0c0c3c"/>
<text x="273.1" y="1310.8" font-size="8.9" text-anchor="middle" fill="#2a2a2a">Kakuma</text>
<circle cx="235.8" cy="1278.7" r="2.6" fill="#0c0c3c"/>
<circle cx="342.3" cy="1293.1" r="2.6" fill="#0c0c3c"/>
<text x="342.2" y="1288.7" font-size="8.9" text-anchor="middle" fill="#2a2a2a">Lokitaung</text>
<circle cx="328.6" cy="1359.6" r="2.6" fill="#0c0c3c"/>
<text x="329.1" y="1355.7" font-size="8.9" text-anchor="middle" fill="#2a2a2a">Lodwar</text>
<circle cx="463.9" cy="1358.1" r="2.6" fill="#0c0c3c"/>
<text x="464.1" y="1353.4" font-size="8.9" text-anchor="middle" fill="#2a2a2a">Kalacha</text>
<circle cx="514.0" cy="1390.7" r="2.6" fill="#0c0c3c"/>
<text x="514.3" y="1384.0" font-size="8.9" text-anchor="middle" fill="#2a2a2a">Bubisa</text>
<circle cx="644.8" cy="1380.7" r="2.6" fill="#0c0c3c"/>
<text x="645.2" y="1375.6" font-size="8.9" text-anchor="middle" fill="#2a2a2a">Bute Helu</text>
<circle cx="710.0" cy="1425.0" r="2.6" fill="#0c0c3c"/>
<circle cx="410.0" cy="1510.5" r="2.6" fill="#0c0c3c"/>
<text x="411.0" y="1506.0" font-size="8.9" text-anchor="middle" fill="#2a2a2a">Maralal</text>
<circle cx="680.0" cy="1585.0" r="2.6" fill="#0c0c3c"/>
<text x="680.0" y="1581.0" font-size="8.9" text-anchor="middle" fill="#2a2a2a">Dadaab</text>
<circle cx="582.5" cy="1646.2" r="2.6" fill="#0c0c3c"/>
<text x="583.1" y="1642.5" font-size="8.9" text-anchor="middle" fill="#2a2a2a">Bangali</text>
<circle cx="511.8" cy="1661.8" r="2.6" fill="#0c0c3c"/>
<text x="511.9" y="1657.5" font-size="8.9" text-anchor="middle" fill="#2a2a2a">Mwingi</text>
<circle cx="652.5" cy="1673.8" r="2.6" fill="#0c0c3c"/>
<text x="652.4" y="1670.0" font-size="8.9" text-anchor="middle" fill="#2a2a2a">Bura</text>
<circle cx="440.8" cy="1724.5" r="2.6" fill="#0c0c3c"/>
<text x="440.6" y="1720.5" font-size="8.9" text-anchor="middle" fill="#2a2a2a">Konza</text>
<circle cx="532.5" cy="1760.0" r="2.6" fill="#0c0c3c"/>
<text x="532.6" y="1755.8" font-size="8.9" text-anchor="middle" fill="#2a2a2a">Tsavo East</text>
<circle cx="451.8" cy="1790.0" r="2.6" fill="#0c0c3c"/>
<text x="452.0" y="1785.8" font-size="8.9" text-anchor="middle" fill="#2a2a2a">Amboseli</text>
<circle cx="518.0" cy="1813.0" r="2.6" fill="#0c0c3c"/>
<text x="518.8" y="1808.8" font-size="8.9" text-anchor="middle" fill="#2a2a2a">Tsavo West</text>
<circle cx="664.2" cy="1761.2" r="2.6" fill="#0c0c3c"/>
<text x="664.5" y="1757.0" font-size="8.9" text-anchor="middle" fill="#2a2a2a">Garsen</text>
<circle cx="276.2" cy="1697.0" r="2.6" fill="#0c0c3c"/>
<text x="297.0" y="1337.5" font-size="4.3" text-anchor="middle" fill="#444">TURKANA</text>
<text x="487.0" y="1370.0" font-size="4.3" text-anchor="middle" fill="#444">MARSABIT</text>
<text x="704.0" y="1336.5" font-size="4.3" text-anchor="middle" fill="#444">MANDERA</text>
<text x="662.5" y="1457.5" font-size="4.3" text-anchor="middle" fill="#444">WAJIR</text>
<text x="561.0" y="1517.5" font-size="4.3" text-anchor="middle" fill="#444">ISIOLO</text>
<text x="434.0" y="1490.5" font-size="4.3" text-anchor="middle" fill="#444">SAMBURU</text>
<text x="305.5" y="1464.0" font-size="4.3" text-anchor="middle" fill="#444">WEST POKOT</text>
<text x="682.5" y="1628.5" font-size="4.3" text-anchor="middle" fill="#444">GARISSA</text>
<text x="622.0" y="1706.5" font-size="4.3" text-anchor="middle" fill="#444">TANA RIVER</text>
<text x="537.0" y="1697.5" font-size="4.3" text-anchor="middle" fill="#444">KITUI</text>
<text x="698.0" y="1744.5" font-size="4.3" text-anchor="middle" fill="#444">LAMU</text>
<text x="634.0" y="1829.5" font-size="4.3" text-anchor="middle" fill="#444">KILIFI</text>
<text x="592.0" y="1898.5" font-size="4.3" text-anchor="middle" fill="#444">KWALE</text>
<text x="535.0" y="1848.5" font-size="4.3" text-anchor="middle" fill="#444">TAITA TAVETA</text>
<text x="415.5" y="1750.5" font-size="4.3" text-anchor="middle" fill="#444">KAJIADO</text>
<text x="485.0" y="1745.5" font-size="4.3" text-anchor="middle" fill="#444">MAKUENI</text>
<text x="319.0" y="1686.5" font-size="4.3" text-anchor="middle" fill="#444">NAROK</text>
<text x="239.0" y="1668.5" font-size="4.3" text-anchor="middle" fill="#444">MIGORI</text>
<text x="230.0" y="1632.5" font-size="4.3" text-anchor="middle" fill="#444">HOMA BAY</text>
<text x="227.0" y="1595.0" font-size="4.3" text-anchor="middle" fill="#444">SIAYA</text>
<text x="256.5" y="1568.0" font-size="4.3" text-anchor="middle" fill="#444">KAKAMEGA</text>
<text x="291.5" y="1578.5" font-size="4.3" text-anchor="middle" fill="#444">NANDI</text>
<text x="359.5" y="1537.0" font-size="4.3" text-anchor="middle" fill="#444">BARINGO</text>
<text x="490.0" y="1580.5" font-size="4.3" text-anchor="middle" fill="#444">MERU</text>
<text x="481.0" y="1637.5" font-size="4.3" text-anchor="middle" fill="#444">EMBU</text>
<text x="459.0" y="1688.0" font-size="4.3" text-anchor="middle" fill="#444">MACHAKOS</text>
<text x="264.0" y="1605.5" font-size="4.3" text-anchor="middle" fill="#444">KISUMU</text>
<text x="284.0" y="1514.0" font-size="4.3" text-anchor="middle" fill="#444">TRANS NZOIA</text>
<text x="427.0" y="1624.5" font-size="4.3" text-anchor="middle" fill="#444">NYERI</text>
<text x="417.0" y="1568.5" font-size="4.3" text-anchor="middle" fill="#444">LAIKIPIA</text>
<text x="365.0" y="1626.0" font-size="4.3" text-anchor="middle" fill="#444">NAKURU</text>
<text x="420.0" y="1686.5" font-size="4.3" text-anchor="middle" fill="#444">KIAMBU</text>
<text x="263.5" y="1652.0" font-size="4.3" text-anchor="middle" fill="#444">KISII</text>
</g>
<use href="#coa" transform="translate(192.65,1176.4) scale(0.0366)"/>
<path d="M199,1218 Q208,1209 214,1212 L220.5,1217 L227,1212 Q234,1209 243,1218 Q221,1225 199,1218Z" fill="#2a2412" opacity=".8"/>
</svg>
<div class="t" style="left:545.00px;top:72px;font-size:28.60px;transform:scaleX(1.0582);font-weight:bold;color:#111">MINISTRY OF ENVIRONMENT, CLIMATE CHANGE AND FORESTRY</div>
<div class="t" style="left:544.40px;top:146px;font-size:26.20px;transform:scaleX(0.9690);color:#1a1a1a">STATE DEPARTMENT FOR ENVIRONMENT AND CLIMATE CHANGE</div>
<div class="t" style="left:543.90px;top:223px;font-size:26.20px;transform:scaleX(0.9491);font-style:italic;color:#1a1a1a">KENYA METEOROLOGICAL DEPARTMENT</div>
<div class="t" style="left:222.50px;top:267px;font-size:22.70px;transform:scaleX(1.0870);font-weight:bold;color:#231f20">REPUBLIC OF KENYA</div>
<div class="t" style="left:147.90px;top:364px;font-size:28.11px;transform:scaleX(0.9890);font-weight:bold">Our Ref: MET/7/333</div>
<div class="t" style="left:1149.50px;top:364px;font-size:28.11px;transform:scaleX(0.9665);font-weight:bold">Date: 20<span class="s">th</span> October 2025</div>
<div class="t" style="left:326.10px;top:423px;font-size:35.78px;transform:scaleX(0.8935);font-weight:bold">WEEKLY WEATHER FORECAST FOR 21<span class="s">ST</span> TO 27<span class="s">TH</span> OCTOBER 2025</div>
<div class="t" style="left:816.30px;top:470px;font-size:35.78px;transform:scaleX(1.0605);font-weight:bold">&amp;</div>
<div class="t" style="left:498.30px;top:518px;font-size:35.78px;transform:scaleX(0.9130);font-weight:bold">REVIEW FOR 13<span class="s">TH</span> TO 19<span class="s">TH</span> OCTOBER 2025</div>
<div class="t" style="left:753.28px;top:610px;font-size:30.67px;transform:scaleX(0.9628);font-weight:bold">SUMMARY</div>
<div class="t" style="left:175.40px;top:678px;font-size:25.56px;transform:scaleX(0.9539);font-weight:bold;font-style:italic">Weather Forecast for 21<span class="s">st</span> to 27<span class="s">th</span> October 2025</div>
<div class="t" style="left:188.30px;top:713px;font-size:25.56px;transform:scaleX(0.9866);word-spacing:-1.10px;font-style:italic">Rainfall is expected in the Highlands East and West of</div>
<div class="t" style="left:188.30px;top:747px;font-size:25.56px;transform:scaleX(0.9866);word-spacing:-0.19px;font-style:italic">the Rift Valley, the Lake Victoria Basin, South-eastern</div>
<div class="t" style="left:188.30px;top:781px;font-size:25.56px;transform:scaleX(0.9894);font-style:italic">lowlands the Rift Valley and North-western Kenya.</div>
<div class="t" style="left:188.30px;top:815px;font-size:25.56px;transform:scaleX(0.9935);word-spacing:2.60px;font-style:italic">Isolated heavy rainfall events may occur over some</div>
<div class="t" style="left:188.30px;top:849px;font-size:25.56px;transform:scaleX(0.9907);font-style:italic">parts of these regions.</div>
<div class="t o" style="left:158.0px;top:715.0px">o</div>
<div class="t o" style="left:158.0px;top:816.7px">o</div>
<div class="t" style="left:872.60px;top:678px;font-size:25.56px;transform:scaleX(0.9640);font-weight:bold;font-style:italic">Weather Review for 13<span class="s">th</span> to 19<span class="s">th</span> October 2025</div>
<div class="t" style="left:873.90px;top:713px;font-size:25.56px;transform:scaleX(0.9887);word-spacing:5.78px;font-style:italic">Rainfall was recorded over the Highlands East and</div>
<div class="t" style="left:873.90px;top:747px;font-size:25.56px;transform:scaleX(0.9935);word-spacing:3.44px;font-style:italic">West of the Rift Valley, Rift Valley and Lake Victoria</div>
<div class="t" style="left:873.90px;top:781px;font-size:25.56px;transform:scaleX(0.9556);font-style:italic">Basin.</div>
<div class="t" style="left:873.90px;top:815px;font-size:25.56px;transform:scaleX(1.0038);word-spacing:-0.82px;font-style:italic">Day-time (maximum) temperatures increased in much</div>
<div class="t" style="left:873.90px;top:849px;font-size:25.56px;transform:scaleX(1.0128);word-spacing:8.87px;font-style:italic">of the country with only a few stations such as</div>
<div class="t" style="left:873.90px;top:883px;font-size:25.56px;transform:scaleX(0.9925);font-style:italic">Mandera and Moyale recording slight decreases.</div>
<div class="t" style="left:868.30px;top:916px;font-size:25.56px;transform:scaleX(1.0119);word-spacing:1.58px;font-style:italic">Night-time (minimum) temperatures decreased in the</div>
<div class="t" style="left:868.30px;top:950px;font-size:25.56px;transform:scaleX(0.9948);word-spacing:4.43px;font-style:italic">Central Rift Valley, Northeastern Kenya and parts of</div>
<div class="t" style="left:868.30px;top:984px;font-size:25.56px;transform:scaleX(1.0013);word-spacing:0.84px;font-style:italic">southeastern lowlands and increased in Northwestern</div>
<div class="t" style="left:868.30px;top:1018px;font-size:25.56px;transform:scaleX(0.9824);word-spacing:-0.34px;font-style:italic">Kenya, Highlands West and East of the Rift Valley,  and</div>
<div class="t o" style="left:842.5px;top:715.0px">o</div>
<div class="t o" style="left:842.5px;top:816.7px">o</div>
<div class="t o" style="left:837.0px;top:918.4px">o</div>
<div class="t" style="left:148.30px;top:1117px;font-size:30.67px;transform:scaleX(0.9906);font-weight:bold">1</div>
<div class="t" style="left:210.20px;top:1117px;font-size:30.67px;transform:scaleX(0.8981);font-weight:bold">WEATHER FORECAST FOR 21<span class="s">ST</span> TO 27<span class="s">TH</span> OCTOBER 2025</div>
<div class="t" style="left:918.80px;top:1161px;font-size:30.67px;transform:scaleX(0.9810);word-spacing:4.06px">Rainfall is expected in the Highlands East</div>
<div class="t" style="left:918.80px;top:1202px;font-size:30.67px;transform:scaleX(0.9988);word-spacing:12.45px">and West of the Rift Valley, the Lake</div>
<div class="t" style="left:918.80px;top:1243px;font-size:30.67px;transform:scaleX(1.0005);word-spacing:0.37px">Victoria Basin, South-eastern lowlands the</div>
<div class="t" style="left:918.80px;top:1284px;font-size:30.67px;transform:scaleX(0.9903);word-spacing:8.32px">Rift Valley and North-western Kenya, as</div>
<div class="t" style="left:918.80px;top:1325px;font-size:30.67px;transform:scaleX(0.9650)">shown in <span style="font-weight:bold">Figure 1.</span></div>
<div class="t" style="left:918.80px;top:1416px;font-size:30.67px;transform:scaleX(0.9435);word-spacing:4.79px;font-weight:bold">Isolated heavy rainfall events may occur</div>
<div class="t" style="left:918.80px;top:1456px;font-size:30.67px;transform:scaleX(0.9388);font-weight:bold">over some parts of these regions.</div>
<div class="t" style="left:918.80px;top:1546px;font-size:30.67px;transform:scaleX(0.9927);word-spacing:93.99px">Daytime (maximum) average</div>
<div class="t" style="left:918.80px;top:1586px;font-size:30.67px;transform:scaleX(1.0090);word-spacing:16.20px">temperatures of more than 30°C are</div>
<div class="t" style="left:918.80px;top:1627px;font-size:30.67px;transform:scaleX(1.0031);word-spacing:2.96px">expected in the Coast, North-eastern and</div>
<div class="t" style="left:918.80px;top:1668px;font-size:30.67px;transform:scaleX(0.9815);word-spacing:3.81px">North-western Kenya, as shown in <span style="font-weight:bold">Figure</span></div>
<div class="t" style="left:918.80px;top:1709px;font-size:30.67px;transform:scaleX(0.9896)"><span style="font-weight:bold">2</span>.</div>
<div class="t" style="left:918.80px;top:1800px;font-size:30.67px;transform:scaleX(1.0124);word-spacing:78.98px">Night-time (minimum) average</div>
<div class="t" style="left:918.80px;top:1841px;font-size:30.67px;transform:scaleX(1.0060);word-spacing:-0.09px">temperatures are expected to be less than</div>
<div class="t" style="left:918.80px;top:1881px;font-size:30.67px;transform:scaleX(0.9880);word-spacing:-1.35px">10°C in some parts of the Highlands East of</div>
<div class="t" style="left:918.80px;top:1922px;font-size:30.67px;transform:scaleX(1.0017);word-spacing:2.97px">the Rift Valley, the Central Rift Valley and</div>
<div class="t" style="left:918.80px;top:1963px;font-size:30.67px;transform:scaleX(1.0299);word-spacing:15.04px">in the vicinity of Mt. Kilimanjaro, as</div>
<div class="t" style="left:918.80px;top:2003px;font-size:30.67px;transform:scaleX(0.9828)">illustrated in <span style="font-weight:bold">Figure 3.</span></div>
<div class="t" style="left:209.00px;top:2054px;font-size:23.00px;transform:scaleX(0.9472);font-weight:bold;font-style:italic">Figure 1: Forecasted Seven-Day Total Rainfall for 21<span class="s">st</span> to 27<span class="s">th</span></div>
<div class="t" style="left:449.60px;top:2085px;font-size:23.00px;transform:scaleX(0.9550);font-weight:bold;font-style:italic">October 2025</div>
<div class="t" style="left:149.00px;top:2163px;font-size:23.00px;transform:scaleX(0.9956)">Kenya Meteorological Department, Dagoretti Corner, Ngong Road |P.O. Box 30259-00100, Nairobi, Kenya</div>
<div class="t" style="left:151.00px;top:2197px;font-size:23.00px;transform:scaleX(0.9832)">Telephone: +254 20 3867880-5, +254 724 255154</div>
<div class="t" style="left:149.00px;top:2235px;font-size:23.00px;transform:scaleX(0.9732)">E-mail:</div>
<div class="t" style="left:225.30px;top:2235px;font-size:23.00px;transform:scaleX(1.0189)"><span class="a">director@meteo.go.ke</span></div>
<div class="t" style="left:466.50px;top:2235px;font-size:23.00px;transform:scaleX(1.0260)">|Website:</div>
<div class="t" style="left:570.30px;top:2235px;font-size:23.00px;transform:scaleX(1.0676)"><span class="a">https://www.meteo.go.ke</span></div>
<div class="t" style="left:1485.30px;top:2229px;font-size:30.67px;transform:scaleX(0.9906)">1</div>
</div></body></html>
